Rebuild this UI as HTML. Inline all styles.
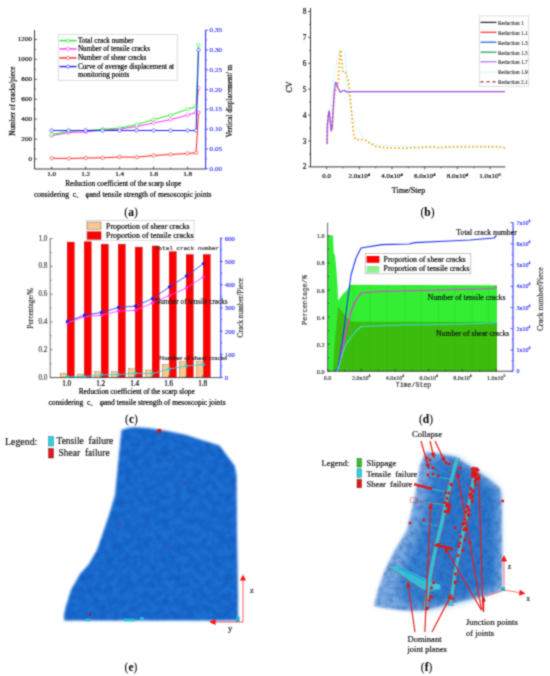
<!DOCTYPE html><html><head><meta charset="utf-8"><style>html,body{margin:0;padding:0;background:#fff;}svg{display:block;}</style></head><body>
<svg width="550" height="676" viewBox="0 0 550 676">
<rect width="550" height="676" fill="#fff"/>
<filter id="gblur" x="0" y="0" width="550" height="676" filterUnits="userSpaceOnUse" color-interpolation-filters="sRGB"><feConvolveMatrix order="3" kernelMatrix="1 2 1 2 8 2 1 2 1" edgeMode="duplicate"/></filter>
<g filter="url(#gblur)">
<rect width="550" height="676" fill="#fff"/>
<line x1="34.5" y1="30.0" x2="34.5" y2="169.0" stroke="#222" stroke-width="0.9" />
<line x1="34.5" y1="169.0" x2="205.6" y2="169.0" stroke="#222" stroke-width="0.9" />
<line x1="205.6" y1="30.0" x2="205.6" y2="169.0" stroke="#3030ff" stroke-width="1.1" />
<line x1="34.5" y1="159.0" x2="37.0" y2="159.0" stroke="#222" stroke-width="0.7" />
<text x="32.0" y="159.0" font-size="7.1" text-anchor="end" fill="#000" font-family="'Liberation Serif','Noto Serif CJK SC',serif" font-weight="normal" dominant-baseline="central" stroke="#000" stroke-width="0.18" >0</text>
<line x1="34.5" y1="139.1" x2="37.0" y2="139.1" stroke="#222" stroke-width="0.7" />
<text x="32.0" y="139.1" font-size="7.1" text-anchor="end" fill="#000" font-family="'Liberation Serif','Noto Serif CJK SC',serif" font-weight="normal" dominant-baseline="central" stroke="#000" stroke-width="0.18" >200</text>
<line x1="34.5" y1="119.1" x2="37.0" y2="119.1" stroke="#222" stroke-width="0.7" />
<text x="32.0" y="119.1" font-size="7.1" text-anchor="end" fill="#000" font-family="'Liberation Serif','Noto Serif CJK SC',serif" font-weight="normal" dominant-baseline="central" stroke="#000" stroke-width="0.18" >400</text>
<line x1="34.5" y1="99.2" x2="37.0" y2="99.2" stroke="#222" stroke-width="0.7" />
<text x="32.0" y="99.2" font-size="7.1" text-anchor="end" fill="#000" font-family="'Liberation Serif','Noto Serif CJK SC',serif" font-weight="normal" dominant-baseline="central" stroke="#000" stroke-width="0.18" >600</text>
<line x1="34.5" y1="79.3" x2="37.0" y2="79.3" stroke="#222" stroke-width="0.7" />
<text x="32.0" y="79.3" font-size="7.1" text-anchor="end" fill="#000" font-family="'Liberation Serif','Noto Serif CJK SC',serif" font-weight="normal" dominant-baseline="central" stroke="#000" stroke-width="0.18" >800</text>
<line x1="34.5" y1="59.3" x2="37.0" y2="59.3" stroke="#222" stroke-width="0.7" />
<text x="32.0" y="59.3" font-size="7.1" text-anchor="end" fill="#000" font-family="'Liberation Serif','Noto Serif CJK SC',serif" font-weight="normal" dominant-baseline="central" stroke="#000" stroke-width="0.18" >1000</text>
<line x1="34.5" y1="39.4" x2="37.0" y2="39.4" stroke="#222" stroke-width="0.7" />
<text x="32.0" y="39.4" font-size="7.1" text-anchor="end" fill="#000" font-family="'Liberation Serif','Noto Serif CJK SC',serif" font-weight="normal" dominant-baseline="central" stroke="#000" stroke-width="0.18" >1200</text>
<line x1="34.5" y1="149.0" x2="36.0" y2="149.0" stroke="#222" stroke-width="0.6" />
<line x1="34.5" y1="129.1" x2="36.0" y2="129.1" stroke="#222" stroke-width="0.6" />
<line x1="34.5" y1="109.2" x2="36.0" y2="109.2" stroke="#222" stroke-width="0.6" />
<line x1="34.5" y1="89.2" x2="36.0" y2="89.2" stroke="#222" stroke-width="0.6" />
<line x1="34.5" y1="69.3" x2="36.0" y2="69.3" stroke="#222" stroke-width="0.6" />
<line x1="34.5" y1="49.4" x2="36.0" y2="49.4" stroke="#222" stroke-width="0.6" />
<line x1="51.6" y1="169.0" x2="51.6" y2="166.5" stroke="#222" stroke-width="0.7" />
<text x="51.6" y="174.2" font-size="7.1" text-anchor="middle" fill="#000" font-family="'Liberation Serif','Noto Serif CJK SC',serif" font-weight="normal" dominant-baseline="central" stroke="#000" stroke-width="0.18" >1.0</text>
<line x1="68.6" y1="169.0" x2="68.6" y2="167.5" stroke="#222" stroke-width="0.7" />
<line x1="85.6" y1="169.0" x2="85.6" y2="166.5" stroke="#222" stroke-width="0.7" />
<text x="85.6" y="174.2" font-size="7.1" text-anchor="middle" fill="#000" font-family="'Liberation Serif','Noto Serif CJK SC',serif" font-weight="normal" dominant-baseline="central" stroke="#000" stroke-width="0.18" >1.2</text>
<line x1="102.6" y1="169.0" x2="102.6" y2="167.5" stroke="#222" stroke-width="0.7" />
<line x1="119.6" y1="169.0" x2="119.6" y2="166.5" stroke="#222" stroke-width="0.7" />
<text x="119.6" y="174.2" font-size="7.1" text-anchor="middle" fill="#000" font-family="'Liberation Serif','Noto Serif CJK SC',serif" font-weight="normal" dominant-baseline="central" stroke="#000" stroke-width="0.18" >1.4</text>
<line x1="136.6" y1="169.0" x2="136.6" y2="167.5" stroke="#222" stroke-width="0.7" />
<line x1="153.6" y1="169.0" x2="153.6" y2="166.5" stroke="#222" stroke-width="0.7" />
<text x="153.6" y="174.2" font-size="7.1" text-anchor="middle" fill="#000" font-family="'Liberation Serif','Noto Serif CJK SC',serif" font-weight="normal" dominant-baseline="central" stroke="#000" stroke-width="0.18" >1.6</text>
<line x1="170.6" y1="169.0" x2="170.6" y2="167.5" stroke="#222" stroke-width="0.7" />
<line x1="187.6" y1="169.0" x2="187.6" y2="166.5" stroke="#222" stroke-width="0.7" />
<text x="187.6" y="174.2" font-size="7.1" text-anchor="middle" fill="#000" font-family="'Liberation Serif','Noto Serif CJK SC',serif" font-weight="normal" dominant-baseline="central" stroke="#000" stroke-width="0.18" >1.8</text>
<line x1="205.6" y1="168.8" x2="208.1" y2="168.8" stroke="#3030ff" stroke-width="0.8" />
<text x="209.6" y="168.8" font-size="7.1" text-anchor="start" fill="#3333ff" font-family="'Liberation Serif','Noto Serif CJK SC',serif" font-weight="normal" dominant-baseline="central" stroke="#3333ff" stroke-width="0.18" >0.00</text>
<line x1="205.6" y1="158.9" x2="207.1" y2="158.9" stroke="#3030ff" stroke-width="0.6" />
<line x1="205.6" y1="149.0" x2="208.1" y2="149.0" stroke="#3030ff" stroke-width="0.8" />
<text x="209.6" y="149.0" font-size="7.1" text-anchor="start" fill="#3333ff" font-family="'Liberation Serif','Noto Serif CJK SC',serif" font-weight="normal" dominant-baseline="central" stroke="#3333ff" stroke-width="0.18" >0.05</text>
<line x1="205.6" y1="139.1" x2="207.1" y2="139.1" stroke="#3030ff" stroke-width="0.6" />
<line x1="205.6" y1="129.2" x2="208.1" y2="129.2" stroke="#3030ff" stroke-width="0.8" />
<text x="209.6" y="129.2" font-size="7.1" text-anchor="start" fill="#3333ff" font-family="'Liberation Serif','Noto Serif CJK SC',serif" font-weight="normal" dominant-baseline="central" stroke="#3333ff" stroke-width="0.18" >0.10</text>
<line x1="205.6" y1="119.3" x2="207.1" y2="119.3" stroke="#3030ff" stroke-width="0.6" />
<line x1="205.6" y1="109.4" x2="208.1" y2="109.4" stroke="#3030ff" stroke-width="0.8" />
<text x="209.6" y="109.4" font-size="7.1" text-anchor="start" fill="#3333ff" font-family="'Liberation Serif','Noto Serif CJK SC',serif" font-weight="normal" dominant-baseline="central" stroke="#3333ff" stroke-width="0.18" >0.15</text>
<line x1="205.6" y1="99.5" x2="207.1" y2="99.5" stroke="#3030ff" stroke-width="0.6" />
<line x1="205.6" y1="89.6" x2="208.1" y2="89.6" stroke="#3030ff" stroke-width="0.8" />
<text x="209.6" y="89.6" font-size="7.1" text-anchor="start" fill="#3333ff" font-family="'Liberation Serif','Noto Serif CJK SC',serif" font-weight="normal" dominant-baseline="central" stroke="#3333ff" stroke-width="0.18" >0.20</text>
<line x1="205.6" y1="79.7" x2="207.1" y2="79.7" stroke="#3030ff" stroke-width="0.6" />
<line x1="205.6" y1="69.8" x2="208.1" y2="69.8" stroke="#3030ff" stroke-width="0.8" />
<text x="209.6" y="69.8" font-size="7.1" text-anchor="start" fill="#3333ff" font-family="'Liberation Serif','Noto Serif CJK SC',serif" font-weight="normal" dominant-baseline="central" stroke="#3333ff" stroke-width="0.18" >0.25</text>
<line x1="205.6" y1="59.9" x2="207.1" y2="59.9" stroke="#3030ff" stroke-width="0.6" />
<line x1="205.6" y1="50.0" x2="208.1" y2="50.0" stroke="#3030ff" stroke-width="0.8" />
<text x="209.6" y="50.0" font-size="7.1" text-anchor="start" fill="#3333ff" font-family="'Liberation Serif','Noto Serif CJK SC',serif" font-weight="normal" dominant-baseline="central" stroke="#3333ff" stroke-width="0.18" >0.30</text>
<line x1="205.6" y1="40.1" x2="207.1" y2="40.1" stroke="#3030ff" stroke-width="0.6" />
<line x1="205.6" y1="30.2" x2="208.1" y2="30.2" stroke="#3030ff" stroke-width="0.8" />
<text x="209.6" y="30.2" font-size="7.1" text-anchor="start" fill="#3333ff" font-family="'Liberation Serif','Noto Serif CJK SC',serif" font-weight="normal" dominant-baseline="central" stroke="#3333ff" stroke-width="0.18" >0.35</text>
<text x="13.3" y="101.2" font-size="7.25" text-anchor="middle" fill="#000" font-family="'Liberation Serif','Noto Serif CJK SC',serif" font-weight="normal" dominant-baseline="central" transform="rotate(-90 13.3 101.2)" stroke="#000" stroke-width="0.18" >Number of cracks/piece</text>
<text x="229.8" y="101.0" font-size="7.3" text-anchor="middle" fill="#000" font-family="'Liberation Serif','Noto Serif CJK SC',serif" font-weight="normal" dominant-baseline="central" transform="rotate(-90 229.8 101)" stroke="#000" stroke-width="0.18" >Vertical displacement/ m</text>
<text x="123.2" y="183.0" font-size="7.3" text-anchor="middle" fill="#000" font-family="'Liberation Serif','Noto Serif CJK SC',serif" font-weight="normal" dominant-baseline="central" stroke="#000" stroke-width="0.18" >Reduction coefficient of the scarp slope</text>
<text x="34.0" y="195.3" font-size="7.2" text-anchor="start" fill="#000" font-family="'Liberation Serif','Noto Serif CJK SC',serif" font-weight="normal" dominant-baseline="central" stroke="#000" stroke-width="0.18"  textLength="177.4" lengthAdjust="spacingAndGlyphs">considering &#160;c、 φand tensile strength of mesoscopic joints</text>
<text x="131.0" y="211.5" font-size="11.5" text-anchor="middle" fill="#000" font-family="'Liberation Serif','Noto Serif CJK SC',serif" font-weight="normal" dominant-baseline="central" stroke="#000" stroke-width="0.05" >(<tspan font-weight="bold">a</tspan>)</text>
<polyline points="51.6,158.2 68.6,158.5 85.6,158.0 102.6,157.8 119.6,157.0 136.6,157.2 153.6,155.5 170.6,154.5 187.6,153.5 196.1,152.8 198.5,112.5" stroke="#ff2020" stroke-width="1.0" fill="none" stroke-linejoin="round" />
<circle cx="51.6" cy="158.2" r="1.7" stroke="#ff2020" fill="#fff" stroke-width="0.6"/>
<circle cx="68.6" cy="158.5" r="1.7" stroke="#ff2020" fill="#fff" stroke-width="0.6"/>
<circle cx="85.6" cy="158.0" r="1.7" stroke="#ff2020" fill="#fff" stroke-width="0.6"/>
<circle cx="102.6" cy="157.8" r="1.7" stroke="#ff2020" fill="#fff" stroke-width="0.6"/>
<circle cx="119.6" cy="157.0" r="1.7" stroke="#ff2020" fill="#fff" stroke-width="0.6"/>
<circle cx="136.6" cy="157.2" r="1.7" stroke="#ff2020" fill="#fff" stroke-width="0.6"/>
<circle cx="153.6" cy="155.5" r="1.7" stroke="#ff2020" fill="#fff" stroke-width="0.6"/>
<circle cx="170.6" cy="154.5" r="1.7" stroke="#ff2020" fill="#fff" stroke-width="0.6"/>
<circle cx="187.6" cy="153.5" r="1.7" stroke="#ff2020" fill="#fff" stroke-width="0.6"/>
<circle cx="196.1" cy="152.8" r="1.7" stroke="#ff2020" fill="#fff" stroke-width="0.6"/>
<circle cx="198.5" cy="112.5" r="1.7" stroke="#ff2020" fill="#fff" stroke-width="0.6"/>
<polyline points="51.6,135.6 68.6,132.6 85.6,131.9 102.6,130.1 119.6,129.1 136.6,126.6 153.6,122.9 170.6,119.6 187.6,115.1 196.1,112.4 198.5,88.0" stroke="#ff30ff" stroke-width="1.0" fill="none" stroke-linejoin="round" />
<circle cx="51.6" cy="135.6" r="1.7" stroke="#ff30ff" fill="#fff" stroke-width="0.6"/>
<circle cx="68.6" cy="132.6" r="1.7" stroke="#ff30ff" fill="#fff" stroke-width="0.6"/>
<circle cx="85.6" cy="131.9" r="1.7" stroke="#ff30ff" fill="#fff" stroke-width="0.6"/>
<circle cx="102.6" cy="130.1" r="1.7" stroke="#ff30ff" fill="#fff" stroke-width="0.6"/>
<circle cx="119.6" cy="129.1" r="1.7" stroke="#ff30ff" fill="#fff" stroke-width="0.6"/>
<circle cx="136.6" cy="126.6" r="1.7" stroke="#ff30ff" fill="#fff" stroke-width="0.6"/>
<circle cx="153.6" cy="122.9" r="1.7" stroke="#ff30ff" fill="#fff" stroke-width="0.6"/>
<circle cx="170.6" cy="119.6" r="1.7" stroke="#ff30ff" fill="#fff" stroke-width="0.6"/>
<circle cx="187.6" cy="115.1" r="1.7" stroke="#ff30ff" fill="#fff" stroke-width="0.6"/>
<circle cx="196.1" cy="112.4" r="1.7" stroke="#ff30ff" fill="#fff" stroke-width="0.6"/>
<circle cx="198.5" cy="88.0" r="1.7" stroke="#ff30ff" fill="#fff" stroke-width="0.6"/>
<polyline points="51.6,134.6 68.6,131.1 85.6,130.6 102.6,129.3 119.6,128.1 136.6,124.6 153.6,119.6 170.6,115.1 187.6,109.2 196.1,106.7 198.5,45.0" stroke="#20ee20" stroke-width="1.0" fill="none" stroke-linejoin="round" />
<circle cx="51.6" cy="134.6" r="1.7" stroke="#20ee20" fill="#fff" stroke-width="0.6"/>
<circle cx="68.6" cy="131.1" r="1.7" stroke="#20ee20" fill="#fff" stroke-width="0.6"/>
<circle cx="85.6" cy="130.6" r="1.7" stroke="#20ee20" fill="#fff" stroke-width="0.6"/>
<circle cx="102.6" cy="129.3" r="1.7" stroke="#20ee20" fill="#fff" stroke-width="0.6"/>
<circle cx="119.6" cy="128.1" r="1.7" stroke="#20ee20" fill="#fff" stroke-width="0.6"/>
<circle cx="136.6" cy="124.6" r="1.7" stroke="#20ee20" fill="#fff" stroke-width="0.6"/>
<circle cx="153.6" cy="119.6" r="1.7" stroke="#20ee20" fill="#fff" stroke-width="0.6"/>
<circle cx="170.6" cy="115.1" r="1.7" stroke="#20ee20" fill="#fff" stroke-width="0.6"/>
<circle cx="187.6" cy="109.2" r="1.7" stroke="#20ee20" fill="#fff" stroke-width="0.6"/>
<circle cx="196.1" cy="106.7" r="1.7" stroke="#20ee20" fill="#fff" stroke-width="0.6"/>
<circle cx="198.5" cy="45.0" r="1.7" stroke="#20ee20" fill="#fff" stroke-width="0.6"/>
<polyline points="51.6,130.5 68.6,130.5 85.6,130.5 102.6,130.5 119.6,130.5 136.6,130.5 153.6,130.5 170.6,130.5 187.6,130.5 196.1,130.5 198.5,50.0" stroke="#2020ff" stroke-width="1.0" fill="none" stroke-linejoin="round" />
<circle cx="51.6" cy="130.5" r="1.7" stroke="#2020ff" fill="#fff" stroke-width="0.6"/>
<circle cx="68.6" cy="130.5" r="1.7" stroke="#2020ff" fill="#fff" stroke-width="0.6"/>
<circle cx="85.6" cy="130.5" r="1.7" stroke="#2020ff" fill="#fff" stroke-width="0.6"/>
<circle cx="102.6" cy="130.5" r="1.7" stroke="#2020ff" fill="#fff" stroke-width="0.6"/>
<circle cx="119.6" cy="130.5" r="1.7" stroke="#2020ff" fill="#fff" stroke-width="0.6"/>
<circle cx="136.6" cy="130.5" r="1.7" stroke="#2020ff" fill="#fff" stroke-width="0.6"/>
<circle cx="153.6" cy="130.5" r="1.7" stroke="#2020ff" fill="#fff" stroke-width="0.6"/>
<circle cx="170.6" cy="130.5" r="1.7" stroke="#2020ff" fill="#fff" stroke-width="0.6"/>
<circle cx="187.6" cy="130.5" r="1.7" stroke="#2020ff" fill="#fff" stroke-width="0.6"/>
<circle cx="196.1" cy="130.5" r="1.7" stroke="#2020ff" fill="#fff" stroke-width="0.6"/>
<circle cx="198.5" cy="50.0" r="1.7" stroke="#2020ff" fill="#fff" stroke-width="0.6"/>
<rect x="58.5" y="34.7" width="118.7" height="45.7" fill="#fff" stroke="#c8c8c8" stroke-width="0.6" />
<line x1="59.5" y1="40.6" x2="76.5" y2="40.6" stroke="#20ee20" stroke-width="1.4" />
<circle cx="68.0" cy="40.6" r="1.6" stroke="#20ee20" fill="#fff" stroke-width="0.6"/>
<text x="77.9" y="40.6" font-size="7.2" text-anchor="start" fill="#000" font-family="'Liberation Serif','Noto Serif CJK SC',serif" font-weight="normal" dominant-baseline="central" stroke="#000" stroke-width="0.18" >Total crack number</text>
<line x1="59.5" y1="48.9" x2="76.5" y2="48.9" stroke="#ff30ff" stroke-width="1.4" />
<circle cx="68.0" cy="48.9" r="1.6" stroke="#ff30ff" fill="#fff" stroke-width="0.6"/>
<text x="77.9" y="48.9" font-size="7.2" text-anchor="start" fill="#000" font-family="'Liberation Serif','Noto Serif CJK SC',serif" font-weight="normal" dominant-baseline="central" stroke="#000" stroke-width="0.18" >Number of tensile cracks</text>
<line x1="59.5" y1="57.9" x2="76.5" y2="57.9" stroke="#ff2020" stroke-width="1.4" />
<circle cx="68.0" cy="57.9" r="1.6" stroke="#ff2020" fill="#fff" stroke-width="0.6"/>
<text x="77.9" y="57.9" font-size="7.2" text-anchor="start" fill="#000" font-family="'Liberation Serif','Noto Serif CJK SC',serif" font-weight="normal" dominant-baseline="central" stroke="#000" stroke-width="0.18" >Number of shear cracks</text>
<line x1="59.5" y1="66.6" x2="76.5" y2="66.6" stroke="#2020ff" stroke-width="1.4" />
<circle cx="68.0" cy="66.6" r="1.6" stroke="#2020ff" fill="#fff" stroke-width="0.6"/>
<text x="77.9" y="66.6" font-size="7.2" text-anchor="start" fill="#000" font-family="'Liberation Serif','Noto Serif CJK SC',serif" font-weight="normal" dominant-baseline="central" stroke="#000" stroke-width="0.18" >Curve of average displacement at</text>
<text x="77.9" y="74.9" font-size="7.2" text-anchor="start" fill="#000" font-family="'Liberation Serif','Noto Serif CJK SC',serif" font-weight="normal" dominant-baseline="central" stroke="#000" stroke-width="0.18" >monitoring points</text>
<line x1="310.5" y1="8.0" x2="310.5" y2="166.9" stroke="#222" stroke-width="0.9" />
<line x1="310.5" y1="166.9" x2="505.4" y2="166.9" stroke="#222" stroke-width="0.9" />
<line x1="310.5" y1="166.9" x2="308.0" y2="166.9" stroke="#222" stroke-width="0.7" />
<text x="306.5" y="166.9" font-size="7.3" text-anchor="end" fill="#000" font-family="'Liberation Serif','Noto Serif CJK SC',serif" font-weight="normal" dominant-baseline="central" stroke="#000" stroke-width="0.18" >2</text>
<line x1="310.5" y1="154.0" x2="309.0" y2="154.0" stroke="#222" stroke-width="0.6" />
<line x1="310.5" y1="141.0" x2="308.0" y2="141.0" stroke="#222" stroke-width="0.7" />
<text x="306.5" y="141.0" font-size="7.3" text-anchor="end" fill="#000" font-family="'Liberation Serif','Noto Serif CJK SC',serif" font-weight="normal" dominant-baseline="central" stroke="#000" stroke-width="0.18" >3</text>
<line x1="310.5" y1="128.1" x2="309.0" y2="128.1" stroke="#222" stroke-width="0.6" />
<line x1="310.5" y1="115.1" x2="308.0" y2="115.1" stroke="#222" stroke-width="0.7" />
<text x="306.5" y="115.1" font-size="7.3" text-anchor="end" fill="#000" font-family="'Liberation Serif','Noto Serif CJK SC',serif" font-weight="normal" dominant-baseline="central" stroke="#000" stroke-width="0.18" >4</text>
<line x1="310.5" y1="102.2" x2="309.0" y2="102.2" stroke="#222" stroke-width="0.6" />
<line x1="310.5" y1="89.2" x2="308.0" y2="89.2" stroke="#222" stroke-width="0.7" />
<text x="306.5" y="89.2" font-size="7.3" text-anchor="end" fill="#000" font-family="'Liberation Serif','Noto Serif CJK SC',serif" font-weight="normal" dominant-baseline="central" stroke="#000" stroke-width="0.18" >5</text>
<line x1="310.5" y1="76.3" x2="309.0" y2="76.3" stroke="#222" stroke-width="0.6" />
<line x1="310.5" y1="63.3" x2="308.0" y2="63.3" stroke="#222" stroke-width="0.7" />
<text x="306.5" y="63.3" font-size="7.3" text-anchor="end" fill="#000" font-family="'Liberation Serif','Noto Serif CJK SC',serif" font-weight="normal" dominant-baseline="central" stroke="#000" stroke-width="0.18" >6</text>
<line x1="310.5" y1="50.4" x2="309.0" y2="50.4" stroke="#222" stroke-width="0.6" />
<line x1="310.5" y1="37.4" x2="308.0" y2="37.4" stroke="#222" stroke-width="0.7" />
<text x="306.5" y="37.4" font-size="7.3" text-anchor="end" fill="#000" font-family="'Liberation Serif','Noto Serif CJK SC',serif" font-weight="normal" dominant-baseline="central" stroke="#000" stroke-width="0.18" >7</text>
<line x1="310.5" y1="24.5" x2="309.0" y2="24.5" stroke="#222" stroke-width="0.6" />
<line x1="310.5" y1="11.5" x2="308.0" y2="11.5" stroke="#222" stroke-width="0.7" />
<text x="306.5" y="11.5" font-size="7.3" text-anchor="end" fill="#000" font-family="'Liberation Serif','Noto Serif CJK SC',serif" font-weight="normal" dominant-baseline="central" stroke="#000" stroke-width="0.18" >8</text>
<line x1="326.6" y1="166.9" x2="326.6" y2="169.4" stroke="#222" stroke-width="0.7" />
<text x="326.6" y="176.3" font-size="7.0" text-anchor="middle" fill="#000" font-family="'Liberation Serif','Noto Serif CJK SC',serif" font-weight="normal" dominant-baseline="central" stroke="#000" stroke-width="0.18" >0.0</text>
<line x1="359.3" y1="166.9" x2="359.3" y2="169.4" stroke="#222" stroke-width="0.7" />
<text x="359.3" y="176.3" font-size="7.0" text-anchor="middle" fill="#000" font-family="'Liberation Serif','Noto Serif CJK SC',serif" font-weight="normal" dominant-baseline="central" stroke="#000" stroke-width="0.18" >2.0x10<tspan dy="-2.5" font-size="4.5">4</tspan></text>
<line x1="392.0" y1="166.9" x2="392.0" y2="169.4" stroke="#222" stroke-width="0.7" />
<text x="392.0" y="176.3" font-size="7.0" text-anchor="middle" fill="#000" font-family="'Liberation Serif','Noto Serif CJK SC',serif" font-weight="normal" dominant-baseline="central" stroke="#000" stroke-width="0.18" >4.0x10<tspan dy="-2.5" font-size="4.5">4</tspan></text>
<line x1="424.7" y1="166.9" x2="424.7" y2="169.4" stroke="#222" stroke-width="0.7" />
<text x="424.7" y="176.3" font-size="7.0" text-anchor="middle" fill="#000" font-family="'Liberation Serif','Noto Serif CJK SC',serif" font-weight="normal" dominant-baseline="central" stroke="#000" stroke-width="0.18" >6.0x10<tspan dy="-2.5" font-size="4.5">4</tspan></text>
<line x1="457.4" y1="166.9" x2="457.4" y2="169.4" stroke="#222" stroke-width="0.7" />
<text x="457.4" y="176.3" font-size="7.0" text-anchor="middle" fill="#000" font-family="'Liberation Serif','Noto Serif CJK SC',serif" font-weight="normal" dominant-baseline="central" stroke="#000" stroke-width="0.18" >8.0x10<tspan dy="-2.5" font-size="4.5">4</tspan></text>
<line x1="490.1" y1="166.9" x2="490.1" y2="169.4" stroke="#222" stroke-width="0.7" />
<text x="490.1" y="176.3" font-size="7.0" text-anchor="middle" fill="#000" font-family="'Liberation Serif','Noto Serif CJK SC',serif" font-weight="normal" dominant-baseline="central" stroke="#000" stroke-width="0.18" >1.0x10<tspan dy="-2.5" font-size="4.5">5</tspan></text>
<line x1="343.0" y1="166.9" x2="343.0" y2="168.4" stroke="#222" stroke-width="0.6" />
<line x1="375.7" y1="166.9" x2="375.7" y2="168.4" stroke="#222" stroke-width="0.6" />
<line x1="408.4" y1="166.9" x2="408.4" y2="168.4" stroke="#222" stroke-width="0.6" />
<line x1="441.1" y1="166.9" x2="441.1" y2="168.4" stroke="#222" stroke-width="0.6" />
<line x1="473.8" y1="166.9" x2="473.8" y2="168.4" stroke="#222" stroke-width="0.6" />
<text x="289.0" y="87.0" font-size="8" text-anchor="middle" fill="#000" font-family="'Liberation Serif','Noto Serif CJK SC',serif" font-weight="normal" dominant-baseline="central" transform="rotate(-90 289 87)" stroke="#000" stroke-width="0.18" >CV</text>
<text x="408.5" y="190.0" font-size="8.1" text-anchor="middle" fill="#000" font-family="'Liberation Serif','Noto Serif CJK SC',serif" font-weight="normal" dominant-baseline="central" stroke="#000" stroke-width="0.18" >Time/Step</text>
<text x="427.5" y="211.5" font-size="11.5" text-anchor="middle" fill="#000" font-family="'Liberation Serif','Noto Serif CJK SC',serif" font-weight="normal" dominant-baseline="central" stroke="#000" stroke-width="0.05" >(<tspan font-weight="bold">b</tspan>)</text>
<polyline points="345.2,52.0 345.2,100.0" stroke="#b0f4f4" stroke-width="0.8" fill="none" stroke-linejoin="round" stroke-dasharray="0.8 1"/>
<polyline points="327.0,141.0 328.5,125.0 330.0,112.0 331.5,100.0 333.0,85.0 335.0,72.0 337.0,60.0 339.0,53.0 341.0,50.0 343.0,51.0 345.2,54.0 346.0,65.0 347.0,78.0 348.5,92.0 350.0,104.0 352.0,114.0 355.0,124.0 360.0,133.0 365.0,139.0 372.0,143.0 380.0,145.0 400.0,146.0 430.0,147.0 460.0,148.0 490.0,147.0 505.0,147.0" stroke="#a0f0f0" stroke-width="0.9" fill="none" stroke-linejoin="round" stroke-dasharray="0.8 1"/>
<polyline points="327.1,144.0 327.4,125.0 328.2,116.0 329.2,111.0 330.2,120.0 331.2,131.0 332.2,127.0 333.3,108.0 334.3,95.0 336.5,88.0 338.3,82.0 338.8,70.0 339.5,60.0 340.3,50.0 341.0,54.0 341.6,60.0 342.2,67.0 343.0,72.5 345.7,72.7 347.4,77.0 348.4,82.0 349.2,87.0 350.0,96.0 351.0,106.0 352.0,118.0 353.0,128.0 354.0,135.0 355.5,139.5 362.0,139.5 366.0,140.5 370.0,143.5 376.0,146.5 385.0,147.7 395.0,148.0 410.0,148.0 420.0,147.5 430.0,147.0 440.0,147.5 450.0,146.8 470.0,146.5 490.0,146.5 500.0,147.0 505.0,148.0" stroke="#f0a000" stroke-width="1.75" fill="none" stroke-linejoin="round" stroke-dasharray="1.5 2.4"/>
<polyline points="327.1,144.0 327.4,125.0 328.2,116.0 329.2,111.0 330.2,120.0 331.2,131.0 332.2,127.0 333.3,108.0 334.3,92.0 335.4,82.5 336.5,83.0 338.0,88.0 340.3,92.3 342.0,91.0 344.1,90.4 346.0,91.5 348.4,92.1 352.0,91.7 505.0,91.7" stroke="#a050e8" stroke-width="1.3" fill="none" stroke-linejoin="round" />
<rect x="479.2" y="16.0" width="49.6" height="70.5" fill="#fff" stroke="#c8c8c8" stroke-width="0.6" />
<line x1="480.5" y1="22.4" x2="496.5" y2="22.4" stroke="#222" stroke-width="1.25" />
<text x="498.0" y="22.7" font-size="5.3" text-anchor="start" fill="#222" font-family="'Liberation Serif','Noto Serif CJK SC',serif" font-weight="normal" dominant-baseline="central" stroke="#222" stroke-width="0.08" >Reduction 1</text>
<line x1="480.5" y1="32.3" x2="496.5" y2="32.3" stroke="#ff3030" stroke-width="1.25" />
<text x="498.0" y="32.6" font-size="5.3" text-anchor="start" fill="#222" font-family="'Liberation Serif','Noto Serif CJK SC',serif" font-weight="normal" dominant-baseline="central" stroke="#222" stroke-width="0.08" >Reduction 1.1</text>
<line x1="480.5" y1="42.2" x2="496.5" y2="42.2" stroke="#2060e0" stroke-width="1.25" />
<text x="498.0" y="42.5" font-size="5.3" text-anchor="start" fill="#222" font-family="'Liberation Serif','Noto Serif CJK SC',serif" font-weight="normal" dominant-baseline="central" stroke="#222" stroke-width="0.08" >Reduction 1.3</text>
<line x1="480.5" y1="52.2" x2="496.5" y2="52.2" stroke="#20a050" stroke-width="1.25" />
<text x="498.0" y="52.5" font-size="5.3" text-anchor="start" fill="#222" font-family="'Liberation Serif','Noto Serif CJK SC',serif" font-weight="normal" dominant-baseline="central" stroke="#222" stroke-width="0.08" >Reduction 1.5</text>
<line x1="480.5" y1="61.8" x2="496.5" y2="61.8" stroke="#b070f0" stroke-width="1.25" />
<text x="498.0" y="62.1" font-size="5.3" text-anchor="start" fill="#222" font-family="'Liberation Serif','Noto Serif CJK SC',serif" font-weight="normal" dominant-baseline="central" stroke="#222" stroke-width="0.08" >Reduction 1.7</text>
<line x1="480.5" y1="72.0" x2="496.5" y2="72.0" stroke="#a0f0f0" stroke-width="1.25" stroke-dasharray="0.8 1"/>
<text x="498.0" y="72.3" font-size="5.3" text-anchor="start" fill="#222" font-family="'Liberation Serif','Noto Serif CJK SC',serif" font-weight="normal" dominant-baseline="central" stroke="#222" stroke-width="0.08" >Reduction 1.9</text>
<line x1="480.5" y1="81.9" x2="496.5" y2="81.9" stroke="#803030" stroke-width="1.25" stroke-dasharray="3 3"/>
<text x="498.0" y="82.2" font-size="5.3" text-anchor="start" fill="#222" font-family="'Liberation Serif','Noto Serif CJK SC',serif" font-weight="normal" dominant-baseline="central" stroke="#222" stroke-width="0.08" >Reduction 2.1</text>
<rect x="67.2" y="242.1" width="7.0" height="135.5" fill="#ff0000" stroke="#b00000" stroke-width="0.4" />
<rect x="60.2" y="373.4" width="7.0" height="4.2" fill="#f8c890" stroke="#8a6a4a" stroke-width="0.4" />
<rect x="84.2" y="241.8" width="7.0" height="135.8" fill="#ff0000" stroke="#b00000" stroke-width="0.4" />
<rect x="77.2" y="374.1" width="7.0" height="3.5" fill="#f8c890" stroke="#8a6a4a" stroke-width="0.4" />
<rect x="101.2" y="244.2" width="7.0" height="133.4" fill="#ff0000" stroke="#b00000" stroke-width="0.4" />
<rect x="94.2" y="371.6" width="7.0" height="6.0" fill="#f8c890" stroke="#8a6a4a" stroke-width="0.4" />
<rect x="118.2" y="244.2" width="7.0" height="133.4" fill="#ff0000" stroke="#b00000" stroke-width="0.4" />
<rect x="111.2" y="371.6" width="7.0" height="6.0" fill="#f8c890" stroke="#8a6a4a" stroke-width="0.4" />
<rect x="135.2" y="247.1" width="7.0" height="130.5" fill="#ff0000" stroke="#b00000" stroke-width="0.4" />
<rect x="128.2" y="368.6" width="7.0" height="9.0" fill="#f8c890" stroke="#8a6a4a" stroke-width="0.4" />
<rect x="152.2" y="246.0" width="7.0" height="131.6" fill="#ff0000" stroke="#b00000" stroke-width="0.4" />
<rect x="145.2" y="370.0" width="7.0" height="7.6" fill="#f8c890" stroke="#8a6a4a" stroke-width="0.4" />
<rect x="169.2" y="251.7" width="7.0" height="125.9" fill="#ff0000" stroke="#b00000" stroke-width="0.4" />
<rect x="162.2" y="364.4" width="7.0" height="13.2" fill="#f8c890" stroke="#8a6a4a" stroke-width="0.4" />
<rect x="186.2" y="254.6" width="7.0" height="123.0" fill="#ff0000" stroke="#b00000" stroke-width="0.4" />
<rect x="179.2" y="361.6" width="7.0" height="16.0" fill="#f8c890" stroke="#8a6a4a" stroke-width="0.4" />
<rect x="203.2" y="254.6" width="7.0" height="123.0" fill="#ff0000" stroke="#b00000" stroke-width="0.4" />
<rect x="196.2" y="361.6" width="7.0" height="16.0" fill="#f8c890" stroke="#8a6a4a" stroke-width="0.4" />
<line x1="50.2" y1="238.0" x2="50.2" y2="377.6" stroke="#666" stroke-width="0.9" />
<line x1="50.2" y1="377.6" x2="220.8" y2="377.6" stroke="#444" stroke-width="0.9" />
<line x1="220.8" y1="238.0" x2="220.8" y2="377.6" stroke="#3030ff" stroke-width="1.1" />
<line x1="50.2" y1="377.6" x2="52.7" y2="377.6" stroke="#555" stroke-width="0.7" />
<text x="47.4" y="377.6" font-size="7.2" text-anchor="end" fill="#444" font-family="'Liberation Serif','Noto Serif CJK SC',serif" font-weight="normal" dominant-baseline="central" stroke="#444" stroke-width="0.18" >0.0</text>
<line x1="50.2" y1="363.7" x2="51.7" y2="363.7" stroke="#555" stroke-width="0.6" />
<line x1="50.2" y1="349.8" x2="52.7" y2="349.8" stroke="#555" stroke-width="0.7" />
<text x="47.4" y="349.8" font-size="7.2" text-anchor="end" fill="#444" font-family="'Liberation Serif','Noto Serif CJK SC',serif" font-weight="normal" dominant-baseline="central" stroke="#444" stroke-width="0.18" >0.2</text>
<line x1="50.2" y1="335.9" x2="51.7" y2="335.9" stroke="#555" stroke-width="0.6" />
<line x1="50.2" y1="322.0" x2="52.7" y2="322.0" stroke="#555" stroke-width="0.7" />
<text x="47.4" y="322.0" font-size="7.2" text-anchor="end" fill="#444" font-family="'Liberation Serif','Noto Serif CJK SC',serif" font-weight="normal" dominant-baseline="central" stroke="#444" stroke-width="0.18" >0.4</text>
<line x1="50.2" y1="308.1" x2="51.7" y2="308.1" stroke="#555" stroke-width="0.6" />
<line x1="50.2" y1="294.2" x2="52.7" y2="294.2" stroke="#555" stroke-width="0.7" />
<text x="47.4" y="294.2" font-size="7.2" text-anchor="end" fill="#444" font-family="'Liberation Serif','Noto Serif CJK SC',serif" font-weight="normal" dominant-baseline="central" stroke="#444" stroke-width="0.18" >0.6</text>
<line x1="50.2" y1="280.3" x2="51.7" y2="280.3" stroke="#555" stroke-width="0.6" />
<line x1="50.2" y1="266.4" x2="52.7" y2="266.4" stroke="#555" stroke-width="0.7" />
<text x="47.4" y="266.4" font-size="7.2" text-anchor="end" fill="#444" font-family="'Liberation Serif','Noto Serif CJK SC',serif" font-weight="normal" dominant-baseline="central" stroke="#444" stroke-width="0.18" >0.8</text>
<line x1="50.2" y1="252.5" x2="51.7" y2="252.5" stroke="#555" stroke-width="0.6" />
<line x1="50.2" y1="238.6" x2="52.7" y2="238.6" stroke="#555" stroke-width="0.7" />
<text x="47.4" y="238.6" font-size="7.2" text-anchor="end" fill="#444" font-family="'Liberation Serif','Noto Serif CJK SC',serif" font-weight="normal" dominant-baseline="central" stroke="#444" stroke-width="0.18" >1.0</text>
<line x1="66.7" y1="377.6" x2="66.7" y2="375.1" stroke="#444" stroke-width="0.7" />
<text x="66.7" y="384.4" font-size="7.2" text-anchor="middle" fill="#000" font-family="'Liberation Serif','Noto Serif CJK SC',serif" font-weight="normal" dominant-baseline="central" stroke="#000" stroke-width="0.18" >1.0</text>
<line x1="83.7" y1="377.6" x2="83.7" y2="376.1" stroke="#444" stroke-width="0.7" />
<line x1="100.7" y1="377.6" x2="100.7" y2="375.1" stroke="#444" stroke-width="0.7" />
<text x="100.7" y="384.4" font-size="7.2" text-anchor="middle" fill="#000" font-family="'Liberation Serif','Noto Serif CJK SC',serif" font-weight="normal" dominant-baseline="central" stroke="#000" stroke-width="0.18" >1.2</text>
<line x1="117.7" y1="377.6" x2="117.7" y2="376.1" stroke="#444" stroke-width="0.7" />
<line x1="134.7" y1="377.6" x2="134.7" y2="375.1" stroke="#444" stroke-width="0.7" />
<text x="134.7" y="384.4" font-size="7.2" text-anchor="middle" fill="#000" font-family="'Liberation Serif','Noto Serif CJK SC',serif" font-weight="normal" dominant-baseline="central" stroke="#000" stroke-width="0.18" >1.4</text>
<line x1="151.7" y1="377.6" x2="151.7" y2="376.1" stroke="#444" stroke-width="0.7" />
<line x1="168.7" y1="377.6" x2="168.7" y2="375.1" stroke="#444" stroke-width="0.7" />
<text x="168.7" y="384.4" font-size="7.2" text-anchor="middle" fill="#000" font-family="'Liberation Serif','Noto Serif CJK SC',serif" font-weight="normal" dominant-baseline="central" stroke="#000" stroke-width="0.18" >1.6</text>
<line x1="185.7" y1="377.6" x2="185.7" y2="376.1" stroke="#444" stroke-width="0.7" />
<line x1="202.7" y1="377.6" x2="202.7" y2="375.1" stroke="#444" stroke-width="0.7" />
<text x="202.7" y="384.4" font-size="7.2" text-anchor="middle" fill="#000" font-family="'Liberation Serif','Noto Serif CJK SC',serif" font-weight="normal" dominant-baseline="central" stroke="#000" stroke-width="0.18" >1.8</text>
<line x1="219.8" y1="377.6" x2="222.8" y2="377.6" stroke="#3030ff" stroke-width="0.8" />
<text x="224.8" y="377.6" font-size="6.8" text-anchor="start" fill="#3333ff" font-family="'Liberation Serif','Noto Serif CJK SC',serif" font-weight="normal" dominant-baseline="central" stroke="#3333ff" stroke-width="0.18" >0</text>
<line x1="220.8" y1="366.0" x2="222.3" y2="366.0" stroke="#3030ff" stroke-width="0.6" />
<line x1="219.8" y1="354.4" x2="222.8" y2="354.4" stroke="#3030ff" stroke-width="0.8" />
<text x="224.8" y="354.4" font-size="6.8" text-anchor="start" fill="#3333ff" font-family="'Liberation Serif','Noto Serif CJK SC',serif" font-weight="normal" dominant-baseline="central" stroke="#3333ff" stroke-width="0.18" >100</text>
<line x1="220.8" y1="342.8" x2="222.3" y2="342.8" stroke="#3030ff" stroke-width="0.6" />
<line x1="219.8" y1="331.1" x2="222.8" y2="331.1" stroke="#3030ff" stroke-width="0.8" />
<text x="224.8" y="331.1" font-size="6.8" text-anchor="start" fill="#3333ff" font-family="'Liberation Serif','Noto Serif CJK SC',serif" font-weight="normal" dominant-baseline="central" stroke="#3333ff" stroke-width="0.18" >200</text>
<line x1="220.8" y1="319.5" x2="222.3" y2="319.5" stroke="#3030ff" stroke-width="0.6" />
<line x1="219.8" y1="307.9" x2="222.8" y2="307.9" stroke="#3030ff" stroke-width="0.8" />
<text x="224.8" y="307.9" font-size="6.8" text-anchor="start" fill="#3333ff" font-family="'Liberation Serif','Noto Serif CJK SC',serif" font-weight="normal" dominant-baseline="central" stroke="#3333ff" stroke-width="0.18" >300</text>
<line x1="220.8" y1="296.3" x2="222.3" y2="296.3" stroke="#3030ff" stroke-width="0.6" />
<line x1="219.8" y1="284.7" x2="222.8" y2="284.7" stroke="#3030ff" stroke-width="0.8" />
<text x="224.8" y="284.7" font-size="6.8" text-anchor="start" fill="#3333ff" font-family="'Liberation Serif','Noto Serif CJK SC',serif" font-weight="normal" dominant-baseline="central" stroke="#3333ff" stroke-width="0.18" >400</text>
<line x1="220.8" y1="273.1" x2="222.3" y2="273.1" stroke="#3030ff" stroke-width="0.6" />
<line x1="219.8" y1="261.5" x2="222.8" y2="261.5" stroke="#3030ff" stroke-width="0.8" />
<text x="224.8" y="261.5" font-size="6.8" text-anchor="start" fill="#3333ff" font-family="'Liberation Serif','Noto Serif CJK SC',serif" font-weight="normal" dominant-baseline="central" stroke="#3333ff" stroke-width="0.18" >500</text>
<line x1="220.8" y1="249.8" x2="222.3" y2="249.8" stroke="#3030ff" stroke-width="0.6" />
<line x1="219.8" y1="238.2" x2="222.8" y2="238.2" stroke="#3030ff" stroke-width="0.8" />
<text x="224.8" y="238.2" font-size="6.8" text-anchor="start" fill="#3333ff" font-family="'Liberation Serif','Noto Serif CJK SC',serif" font-weight="normal" dominant-baseline="central" stroke="#3333ff" stroke-width="0.18" >600</text>
<text x="30.7" y="308.3" font-size="7.4" text-anchor="middle" fill="#333" font-family="'Liberation Serif','Noto Serif CJK SC',serif" font-weight="normal" dominant-baseline="central" transform="rotate(-90 30.7 308.3)" stroke="#333" stroke-width="0.18" >Percentage/%</text>
<text x="240.5" y="307.7" font-size="7.3" text-anchor="middle" fill="#333" font-family="'Liberation Serif','Noto Serif CJK SC',serif" font-weight="normal" dominant-baseline="central" transform="rotate(-90 240.5 307.7)" stroke="#333" stroke-width="0.18" >Crack number/Piece</text>
<text x="136.7" y="391.4" font-size="7.3" text-anchor="middle" fill="#000" font-family="'Liberation Serif','Noto Serif CJK SC',serif" font-weight="normal" dominant-baseline="central" stroke="#000" stroke-width="0.18" >Reduction coefficient of the scarp slope</text>
<text x="48.4" y="403.2" font-size="7.2" text-anchor="start" fill="#000" font-family="'Liberation Serif','Noto Serif CJK SC',serif" font-weight="normal" dominant-baseline="central" stroke="#000" stroke-width="0.18"  textLength="177.2" lengthAdjust="spacingAndGlyphs">considering &#160;c、 φand tensile strength of mesoscopic joints</text>
<text x="131.5" y="419.0" font-size="11.5" text-anchor="middle" fill="#000" font-family="'Liberation Serif','Noto Serif CJK SC',serif" font-weight="normal" dominant-baseline="central" stroke="#000" stroke-width="0.05" >(<tspan font-weight="bold">c</tspan>)</text>
<polyline points="67.4,322.8 84.4,316.8 101.4,315.2 118.4,311.2 135.4,310.4 152.4,303.0 169.4,295.6 186.4,288.0 203.4,277.0" stroke="#ff40ff" stroke-width="0.9" fill="none" stroke-linejoin="round" />
<circle cx="67.4" cy="322.8" r="1.4" stroke="#ff30ff" fill="#ff30ff" stroke-width="0.3"/>
<circle cx="84.4" cy="316.8" r="1.4" stroke="#ff30ff" fill="#ff30ff" stroke-width="0.3"/>
<circle cx="101.4" cy="315.2" r="1.4" stroke="#ff30ff" fill="#ff30ff" stroke-width="0.3"/>
<circle cx="118.4" cy="311.2" r="1.4" stroke="#ff30ff" fill="#ff30ff" stroke-width="0.3"/>
<circle cx="135.4" cy="310.4" r="1.4" stroke="#ff30ff" fill="#ff30ff" stroke-width="0.3"/>
<circle cx="152.4" cy="303.0" r="1.4" stroke="#ff30ff" fill="#ff30ff" stroke-width="0.3"/>
<circle cx="169.4" cy="295.6" r="1.4" stroke="#ff30ff" fill="#ff30ff" stroke-width="0.3"/>
<circle cx="186.4" cy="288.0" r="1.4" stroke="#ff30ff" fill="#ff30ff" stroke-width="0.3"/>
<circle cx="203.4" cy="277.0" r="1.4" stroke="#ff30ff" fill="#ff30ff" stroke-width="0.3"/>
<polyline points="67.4,321.5 84.4,315.2 101.4,312.5 118.4,307.5 135.4,306.1 152.4,298.6 169.4,287.0 186.4,276.0 203.4,263.6" stroke="#3040ff" stroke-width="0.9" fill="none" stroke-linejoin="round" />
<circle cx="67.4" cy="321.5" r="1.4" stroke="#1020f0" fill="#1020f0" stroke-width="0.3"/>
<circle cx="84.4" cy="315.2" r="1.4" stroke="#1020f0" fill="#1020f0" stroke-width="0.3"/>
<circle cx="101.4" cy="312.5" r="1.4" stroke="#1020f0" fill="#1020f0" stroke-width="0.3"/>
<circle cx="118.4" cy="307.5" r="1.4" stroke="#1020f0" fill="#1020f0" stroke-width="0.3"/>
<circle cx="135.4" cy="306.1" r="1.4" stroke="#1020f0" fill="#1020f0" stroke-width="0.3"/>
<circle cx="152.4" cy="298.6" r="1.4" stroke="#1020f0" fill="#1020f0" stroke-width="0.3"/>
<circle cx="169.4" cy="287.0" r="1.4" stroke="#1020f0" fill="#1020f0" stroke-width="0.3"/>
<circle cx="186.4" cy="276.0" r="1.4" stroke="#1020f0" fill="#1020f0" stroke-width="0.3"/>
<circle cx="203.4" cy="263.6" r="1.4" stroke="#1020f0" fill="#1020f0" stroke-width="0.3"/>
<polyline points="67.4,376.6 84.4,376.6 101.4,374.8 118.4,374.6 135.4,373.2 152.4,373.6 169.4,369.0 186.4,366.0 203.4,364.4" stroke="#30d8e0" stroke-width="0.9" fill="none" stroke-linejoin="round" />
<circle cx="67.4" cy="376.6" r="1.4" stroke="#10d0e0" fill="#10d0e0" stroke-width="0.3"/>
<circle cx="84.4" cy="376.6" r="1.4" stroke="#10d0e0" fill="#10d0e0" stroke-width="0.3"/>
<circle cx="101.4" cy="374.8" r="1.4" stroke="#10d0e0" fill="#10d0e0" stroke-width="0.3"/>
<circle cx="118.4" cy="374.6" r="1.4" stroke="#10d0e0" fill="#10d0e0" stroke-width="0.3"/>
<circle cx="135.4" cy="373.2" r="1.4" stroke="#10d0e0" fill="#10d0e0" stroke-width="0.3"/>
<circle cx="152.4" cy="373.6" r="1.4" stroke="#10d0e0" fill="#10d0e0" stroke-width="0.3"/>
<circle cx="169.4" cy="369.0" r="1.4" stroke="#10d0e0" fill="#10d0e0" stroke-width="0.3"/>
<circle cx="186.4" cy="366.0" r="1.4" stroke="#10d0e0" fill="#10d0e0" stroke-width="0.3"/>
<circle cx="203.4" cy="364.4" r="1.4" stroke="#10d0e0" fill="#10d0e0" stroke-width="0.3"/>
<text x="155.0" y="248.0" font-size="5.95" text-anchor="start" fill="#333" font-family="'Liberation Mono',monospace" font-weight="normal" dominant-baseline="central" stroke="#333" stroke-width="0.18" >Total crack number</text>
<text x="155.0" y="301.6" font-size="7.25" text-anchor="start" fill="#222" font-family="'Liberation Serif','Noto Serif CJK SC',serif" font-weight="normal" dominant-baseline="central" stroke="#222" stroke-width="0.18" >Number of tensile cracks</text>
<text x="159.0" y="358.4" font-size="7.15" text-anchor="start" fill="#222" font-family="'Liberation Serif','Noto Serif CJK SC',serif" font-weight="normal" dominant-baseline="central" stroke="#222" stroke-width="0.18" >Number of shear cracks</text>
<rect x="86.4" y="220.6" width="107.6" height="19.6" fill="#fff" stroke="#c0c0c0" stroke-width="0.6" />
<rect x="87.4" y="222.0" width="13.6" height="7.4" fill="#f8c890" stroke="#8a6a4a" stroke-width="0.5" />
<rect x="87.4" y="231.8" width="13.6" height="7.4" fill="#ff0000" stroke="#a00000" stroke-width="0.5" />
<text x="106.0" y="226.0" font-size="7.95" text-anchor="start" fill="#000" font-family="'Liberation Serif','Noto Serif CJK SC',serif" font-weight="normal" dominant-baseline="central" stroke="#000" stroke-width="0.18" >Proportion of shear cracks</text>
<text x="106.0" y="235.6" font-size="7.95" text-anchor="start" fill="#000" font-family="'Liberation Serif','Noto Serif CJK SC',serif" font-weight="normal" dominant-baseline="central" stroke="#000" stroke-width="0.18" >Proportion of tensile cracks</text>
<polygon points="327.6,235.4 333.0,235.4 333.6,252.0 335.0,255.5 336.0,265.0 337.5,285.0 338.0,300.0 338.6,300.0 343.0,294.0 347.0,290.0 350.0,284.8 497.0,285.2 497.0,371.2 327.6,371.2" fill="#33ee33" stroke="none" stroke-width="1" />
<polygon points="333.0,371.2 334.5,345.0 336.5,325.0 338.0,306.5 344.0,314.0 348.0,319.0 352.0,321.8 497.0,322.0 497.0,371.2" fill="#3cbd0e" stroke="none" stroke-width="1" />
<rect x="352.5" y="285.5" width="1.2" height="85.7" fill="#1a9a1a" stroke="none" stroke-width="1" opacity="0.13"/>
<rect x="369.5" y="285.5" width="1.2" height="85.7" fill="#1a9a1a" stroke="none" stroke-width="1" opacity="0.13"/>
<rect x="386.5" y="285.5" width="1.2" height="85.7" fill="#1a9a1a" stroke="none" stroke-width="1" opacity="0.13"/>
<rect x="404.0" y="285.5" width="1.2" height="85.7" fill="#1a9a1a" stroke="none" stroke-width="1" opacity="0.13"/>
<rect x="420.4" y="285.5" width="1.2" height="85.7" fill="#1a9a1a" stroke="none" stroke-width="1" opacity="0.13"/>
<rect x="437.9" y="285.5" width="1.2" height="85.7" fill="#1a9a1a" stroke="none" stroke-width="1" opacity="0.13"/>
<rect x="454.0" y="285.5" width="1.2" height="85.7" fill="#1a9a1a" stroke="none" stroke-width="1" opacity="0.13"/>
<rect x="471.7" y="285.5" width="1.2" height="85.7" fill="#1a9a1a" stroke="none" stroke-width="1" opacity="0.13"/>
<rect x="488.0" y="285.5" width="1.2" height="85.7" fill="#1a9a1a" stroke="none" stroke-width="1" opacity="0.13"/>
<line x1="327.6" y1="222.6" x2="327.6" y2="371.2" stroke="#555" stroke-width="0.9" />
<line x1="327.6" y1="371.2" x2="513.0" y2="371.2" stroke="#333" stroke-width="0.9" />
<line x1="513.0" y1="222.6" x2="513.0" y2="371.2" stroke="#3030ff" stroke-width="1.1" />
<line x1="327.6" y1="371.2" x2="330.1" y2="371.2" stroke="#333" stroke-width="0.7" />
<text x="324.6" y="371.2" font-size="6.3" text-anchor="end" fill="#333" font-family="'Liberation Serif','Noto Serif CJK SC',serif" font-weight="normal" dominant-baseline="central" stroke="#333" stroke-width="0.18" >0.0</text>
<line x1="327.6" y1="357.7" x2="329.1" y2="357.7" stroke="#333" stroke-width="0.6" />
<line x1="327.6" y1="344.1" x2="330.1" y2="344.1" stroke="#333" stroke-width="0.7" />
<text x="324.6" y="344.1" font-size="6.3" text-anchor="end" fill="#333" font-family="'Liberation Serif','Noto Serif CJK SC',serif" font-weight="normal" dominant-baseline="central" stroke="#333" stroke-width="0.18" >0.2</text>
<line x1="327.6" y1="330.6" x2="329.1" y2="330.6" stroke="#333" stroke-width="0.6" />
<line x1="327.6" y1="317.0" x2="330.1" y2="317.0" stroke="#333" stroke-width="0.7" />
<text x="324.6" y="317.0" font-size="6.3" text-anchor="end" fill="#333" font-family="'Liberation Serif','Noto Serif CJK SC',serif" font-weight="normal" dominant-baseline="central" stroke="#333" stroke-width="0.18" >0.4</text>
<line x1="327.6" y1="303.5" x2="329.1" y2="303.5" stroke="#333" stroke-width="0.6" />
<line x1="327.6" y1="290.0" x2="330.1" y2="290.0" stroke="#333" stroke-width="0.7" />
<text x="324.6" y="290.0" font-size="6.3" text-anchor="end" fill="#333" font-family="'Liberation Serif','Noto Serif CJK SC',serif" font-weight="normal" dominant-baseline="central" stroke="#333" stroke-width="0.18" >0.6</text>
<line x1="327.6" y1="276.4" x2="329.1" y2="276.4" stroke="#333" stroke-width="0.6" />
<line x1="327.6" y1="262.9" x2="330.1" y2="262.9" stroke="#333" stroke-width="0.7" />
<text x="324.6" y="262.9" font-size="6.3" text-anchor="end" fill="#333" font-family="'Liberation Serif','Noto Serif CJK SC',serif" font-weight="normal" dominant-baseline="central" stroke="#333" stroke-width="0.18" >0.8</text>
<line x1="327.6" y1="249.3" x2="329.1" y2="249.3" stroke="#333" stroke-width="0.6" />
<line x1="327.6" y1="235.8" x2="330.1" y2="235.8" stroke="#333" stroke-width="0.7" />
<text x="324.6" y="235.8" font-size="6.3" text-anchor="end" fill="#333" font-family="'Liberation Serif','Noto Serif CJK SC',serif" font-weight="normal" dominant-baseline="central" stroke="#333" stroke-width="0.18" >1.0</text>
<line x1="327.6" y1="371.2" x2="327.6" y2="368.7" stroke="#333" stroke-width="0.7" />
<text x="327.6" y="377.6" font-size="6.0" text-anchor="middle" fill="#333" font-family="'Liberation Serif','Noto Serif CJK SC',serif" font-weight="normal" dominant-baseline="central" stroke="#333" stroke-width="0.18" >0.0</text>
<line x1="344.5" y1="371.2" x2="344.5" y2="369.7" stroke="#333" stroke-width="0.6" />
<line x1="361.3" y1="371.2" x2="361.3" y2="368.7" stroke="#333" stroke-width="0.7" />
<text x="361.3" y="377.6" font-size="6.0" text-anchor="middle" fill="#333" font-family="'Liberation Serif','Noto Serif CJK SC',serif" font-weight="normal" dominant-baseline="central" stroke="#333" stroke-width="0.18" >2.0x10<tspan dy="-2" font-size="3.8">4</tspan></text>
<line x1="378.2" y1="371.2" x2="378.2" y2="369.7" stroke="#333" stroke-width="0.6" />
<line x1="395.0" y1="371.2" x2="395.0" y2="368.7" stroke="#333" stroke-width="0.7" />
<text x="395.0" y="377.6" font-size="6.0" text-anchor="middle" fill="#333" font-family="'Liberation Serif','Noto Serif CJK SC',serif" font-weight="normal" dominant-baseline="central" stroke="#333" stroke-width="0.18" >4.0x10<tspan dy="-2" font-size="3.8">4</tspan></text>
<line x1="411.9" y1="371.2" x2="411.9" y2="369.7" stroke="#333" stroke-width="0.6" />
<line x1="428.7" y1="371.2" x2="428.7" y2="368.7" stroke="#333" stroke-width="0.7" />
<text x="428.7" y="377.6" font-size="6.0" text-anchor="middle" fill="#333" font-family="'Liberation Serif','Noto Serif CJK SC',serif" font-weight="normal" dominant-baseline="central" stroke="#333" stroke-width="0.18" >6.0x10<tspan dy="-2" font-size="3.8">4</tspan></text>
<line x1="445.6" y1="371.2" x2="445.6" y2="369.7" stroke="#333" stroke-width="0.6" />
<line x1="462.4" y1="371.2" x2="462.4" y2="368.7" stroke="#333" stroke-width="0.7" />
<text x="462.4" y="377.6" font-size="6.0" text-anchor="middle" fill="#333" font-family="'Liberation Serif','Noto Serif CJK SC',serif" font-weight="normal" dominant-baseline="central" stroke="#333" stroke-width="0.18" >8.0x10<tspan dy="-2" font-size="3.8">4</tspan></text>
<line x1="479.3" y1="371.2" x2="479.3" y2="369.7" stroke="#333" stroke-width="0.6" />
<line x1="496.1" y1="371.2" x2="496.1" y2="368.7" stroke="#333" stroke-width="0.7" />
<text x="496.1" y="377.6" font-size="6.0" text-anchor="middle" fill="#333" font-family="'Liberation Serif','Noto Serif CJK SC',serif" font-weight="normal" dominant-baseline="central" stroke="#333" stroke-width="0.18" >1.0x10<tspan dy="-2" font-size="3.8">5</tspan></text>
<line x1="510.5" y1="371.2" x2="513.0" y2="371.2" stroke="#3030ff" stroke-width="0.8" />
<text x="516.5" y="371.2" font-size="6.0" text-anchor="start" fill="#3333ff" font-family="'Liberation Serif','Noto Serif CJK SC',serif" font-weight="normal" dominant-baseline="central" stroke="#3333ff" stroke-width="0.18" >0</text>
<line x1="511.5" y1="360.6" x2="513.0" y2="360.6" stroke="#3030ff" stroke-width="0.6" />
<line x1="510.5" y1="350.0" x2="513.0" y2="350.0" stroke="#3030ff" stroke-width="0.8" />
<text x="516.5" y="350.0" font-size="6.0" text-anchor="start" fill="#3333ff" font-family="'Liberation Serif','Noto Serif CJK SC',serif" font-weight="normal" dominant-baseline="central" stroke="#3333ff" stroke-width="0.18" >1x10<tspan dy="-2" font-size="3.8">4</tspan></text>
<line x1="511.5" y1="339.4" x2="513.0" y2="339.4" stroke="#3030ff" stroke-width="0.6" />
<line x1="510.5" y1="328.7" x2="513.0" y2="328.7" stroke="#3030ff" stroke-width="0.8" />
<text x="516.5" y="328.7" font-size="6.0" text-anchor="start" fill="#3333ff" font-family="'Liberation Serif','Noto Serif CJK SC',serif" font-weight="normal" dominant-baseline="central" stroke="#3333ff" stroke-width="0.18" >2x10<tspan dy="-2" font-size="3.8">4</tspan></text>
<line x1="511.5" y1="318.1" x2="513.0" y2="318.1" stroke="#3030ff" stroke-width="0.6" />
<line x1="510.5" y1="307.5" x2="513.0" y2="307.5" stroke="#3030ff" stroke-width="0.8" />
<text x="516.5" y="307.5" font-size="6.0" text-anchor="start" fill="#3333ff" font-family="'Liberation Serif','Noto Serif CJK SC',serif" font-weight="normal" dominant-baseline="central" stroke="#3333ff" stroke-width="0.18" >3x10<tspan dy="-2" font-size="3.8">4</tspan></text>
<line x1="511.5" y1="296.9" x2="513.0" y2="296.9" stroke="#3030ff" stroke-width="0.6" />
<line x1="510.5" y1="286.3" x2="513.0" y2="286.3" stroke="#3030ff" stroke-width="0.8" />
<text x="516.5" y="286.3" font-size="6.0" text-anchor="start" fill="#3333ff" font-family="'Liberation Serif','Noto Serif CJK SC',serif" font-weight="normal" dominant-baseline="central" stroke="#3333ff" stroke-width="0.18" >4x10<tspan dy="-2" font-size="3.8">4</tspan></text>
<line x1="511.5" y1="275.7" x2="513.0" y2="275.7" stroke="#3030ff" stroke-width="0.6" />
<line x1="510.5" y1="265.0" x2="513.0" y2="265.0" stroke="#3030ff" stroke-width="0.8" />
<text x="516.5" y="265.0" font-size="6.0" text-anchor="start" fill="#3333ff" font-family="'Liberation Serif','Noto Serif CJK SC',serif" font-weight="normal" dominant-baseline="central" stroke="#3333ff" stroke-width="0.18" >5x10<tspan dy="-2" font-size="3.8">4</tspan></text>
<line x1="511.5" y1="254.4" x2="513.0" y2="254.4" stroke="#3030ff" stroke-width="0.6" />
<line x1="510.5" y1="243.8" x2="513.0" y2="243.8" stroke="#3030ff" stroke-width="0.8" />
<text x="516.5" y="243.8" font-size="6.0" text-anchor="start" fill="#3333ff" font-family="'Liberation Serif','Noto Serif CJK SC',serif" font-weight="normal" dominant-baseline="central" stroke="#3333ff" stroke-width="0.18" >6x10<tspan dy="-2" font-size="3.8">4</tspan></text>
<line x1="511.5" y1="233.2" x2="513.0" y2="233.2" stroke="#3030ff" stroke-width="0.6" />
<line x1="510.5" y1="222.6" x2="513.0" y2="222.6" stroke="#3030ff" stroke-width="0.8" />
<text x="516.5" y="222.6" font-size="6.0" text-anchor="start" fill="#3333ff" font-family="'Liberation Serif','Noto Serif CJK SC',serif" font-weight="normal" dominant-baseline="central" stroke="#3333ff" stroke-width="0.18" >7x10<tspan dy="-2" font-size="3.8">4</tspan></text>
<text x="305.4" y="300.0" font-size="6.9" text-anchor="middle" fill="#444" font-family="'Liberation Mono',monospace" font-weight="normal" dominant-baseline="central" transform="rotate(-90 305.4 300)" stroke="#444" stroke-width="0.18" >Percentage/%</text>
<text x="541.0" y="299.2" font-size="7.85" text-anchor="middle" fill="#333" font-family="'Liberation Serif','Noto Serif CJK SC',serif" font-weight="normal" dominant-baseline="central" transform="rotate(-90 541 299.2)" stroke="#333" stroke-width="0.18" >Crack number/Piece</text>
<text x="413.5" y="385.6" font-size="6.6" text-anchor="middle" fill="#333" font-family="'Liberation Mono',monospace" font-weight="normal" dominant-baseline="central" stroke="#333" stroke-width="0.18" >Time/Step</text>
<text x="426.0" y="419.0" font-size="11.5" text-anchor="middle" fill="#000" font-family="'Liberation Serif','Noto Serif CJK SC',serif" font-weight="normal" dominant-baseline="central" stroke="#000" stroke-width="0.05" >(<tspan font-weight="bold">d</tspan>)</text>
<polyline points="335.0,371.2 338.0,368.0 341.0,350.0 344.5,325.0 347.0,305.0 351.0,275.0 356.0,258.0 361.0,248.0 382.0,244.6 409.0,244.0 415.0,242.6 449.0,241.0 470.0,240.0 494.0,238.0 496.5,235.5" stroke="#2030ff" stroke-width="1.1" fill="none" stroke-linejoin="round" />
<polyline points="336.5,371.2 339.0,367.0 343.0,345.0 347.0,330.0 351.0,311.0 356.0,300.0 361.0,293.0 380.0,291.5 420.0,290.5 460.0,289.5 494.0,288.5 496.5,286.5" stroke="#f030f0" stroke-width="1.25" fill="none" stroke-linejoin="round" />
<polyline points="337.0,371.2 339.0,366.0 342.0,355.0 345.0,346.0 349.0,340.0 351.0,337.0 356.0,331.0 361.0,326.5 400.0,325.0 440.0,324.5 480.0,323.5 494.0,323.0 496.5,321.5" stroke="#30e0e0" stroke-width="1.1" fill="none" stroke-linejoin="round" />
<text x="456.3" y="232.3" font-size="7.8" text-anchor="start" fill="#111" font-family="'Liberation Serif','Noto Serif CJK SC',serif" font-weight="normal" dominant-baseline="central" stroke="#111" stroke-width="0.18" >Total crack number</text>
<text x="427.8" y="297.2" font-size="7.75" text-anchor="start" fill="#111" font-family="'Liberation Serif','Noto Serif CJK SC',serif" font-weight="normal" dominant-baseline="central" stroke="#111" stroke-width="0.18" >Number of tensile cracks</text>
<text x="436.0" y="333.4" font-size="7.7" text-anchor="start" fill="#111" font-family="'Liberation Serif','Noto Serif CJK SC',serif" font-weight="normal" dominant-baseline="central" stroke="#111" stroke-width="0.18" >Number of shear cracks</text>
<rect x="365.2" y="253.6" width="105.6" height="20.2" fill="#fff" stroke="#b0b0b0" stroke-width="0.7" />
<rect x="366.6" y="256.0" width="12.8" height="6.8" fill="#ff0000" stroke="none" stroke-width="1" />
<rect x="366.6" y="266.0" width="12.8" height="6.8" fill="#90f090" stroke="none" stroke-width="1" />
<text x="383.6" y="259.0" font-size="7.8" text-anchor="start" fill="#000" font-family="'Liberation Serif','Noto Serif CJK SC',serif" font-weight="normal" dominant-baseline="central" stroke="#000" stroke-width="0.18" >Proportion of shear cracks</text>
<text x="383.6" y="268.8" font-size="7.8" text-anchor="start" fill="#000" font-family="'Liberation Serif','Noto Serif CJK SC',serif" font-weight="normal" dominant-baseline="central" stroke="#000" stroke-width="0.18" >Proportion of tensile cracks</text>
<defs>
<filter id="noiseE" x="0" y="0" width="100%" height="100%" color-interpolation-filters="sRGB">
  <feTurbulence type="fractalNoise" baseFrequency="0.16" numOctaves="3" seed="7" result="n"/>
  <feColorMatrix in="n" type="matrix" values="0 0 0 0 0.05  0 0 0 0 0.27  0 0 0 0 0.62  2.6 0 0 0 -1.05"/>
  <feGaussianBlur stdDeviation="0.6"/>
</filter>
<filter id="soft" x="-5%" y="-5%" width="110%" height="110%"><feGaussianBlur stdDeviation="1.0"/></filter>
<filter id="soft2" x="-5%" y="-5%" width="110%" height="110%"><feGaussianBlur stdDeviation="1.2"/></filter>
<filter id="soft3" x="-10%" y="-10%" width="120%" height="120%"><feGaussianBlur stdDeviation="1.8"/></filter>
<filter id="soft4" x="-10%" y="-10%" width="120%" height="120%"><feGaussianBlur stdDeviation="4"/></filter>
<clipPath id="clipE"><polygon points="121.5,430 128,428 135,427.2 148,428 161,430 175,432.5 186,435 201.6,440 219.4,445.4 234.7,465.8 236.5,475 237,535 238,600 238,620.5 64,620.5 64,615 66,606 71,590 80,574 89,564 97,550 104,530 110,512 115,495 118,465 120,445"/></clipPath>
<clipPath id="clipF"><polygon points="426,452 440,454 456,457 460,460 475,470 490,480 500,488 501.5,495 502,550 502,590 495,592.7 480,597 460,601.4 440,606 426,610 410,611 390,609 374,606 378,590 385,570 395,550 407,530 413,505 417,485 420,465"/></clipPath>
<linearGradient id="gF" x1="0" y1="0" x2="1" y2="0.25">
  <stop offset="0" stop-color="#8fb4e6"/>
  <stop offset="0.25" stop-color="#5d92d8"/>
  <stop offset="0.55" stop-color="#2f76cc"/>
  <stop offset="0.85" stop-color="#3478cc"/>
  <stop offset="1" stop-color="#6a9ad8"/>
</linearGradient>
</defs>
<g filter="url(#soft)">
<polygon points="121.5,430.0 128.0,428.0 135.0,427.2 148.0,428.0 161.0,430.0 175.0,432.5 186.0,435.0 201.6,440.0 219.4,445.4 234.7,465.8 236.5,475.0 237.0,535.0 238.0,600.0 238.0,620.5 64.0,620.5 64.0,615.0 66.0,606.0 71.0,590.0 80.0,574.0 89.0,564.0 97.0,550.0 104.0,530.0 110.0,512.0 115.0,495.0 118.0,465.0 120.0,445.0" fill="#1b6dd2" stroke="none" stroke-width="1" />
<g clip-path="url(#clipE)"><rect x="60" y="425" width="182" height="200" filter="url(#noiseE)" opacity="0.45"/></g>
</g>
<rect x="157.5" y="429.0" width="3.6" height="4.0" fill="#e01010" stroke="none" stroke-width="1" />
<rect x="184.0" y="483.0" width="2.0" height="2.0" fill="#7a3070" stroke="none" stroke-width="1" opacity="0.8"/>
<rect x="119.0" y="523.0" width="2.0" height="2.0" fill="#7a3070" stroke="none" stroke-width="1" opacity="0.8"/>
<rect x="165.0" y="546.5" width="2.0" height="2.0" fill="#7a3070" stroke="none" stroke-width="1" opacity="0.8"/>
<rect x="89.0" y="613.0" width="2.2" height="2.5" fill="#a02040" stroke="none" stroke-width="1" />
<rect x="86.0" y="618.7" width="4.0" height="2.6" fill="#20c8d8" stroke="none" stroke-width="1" />
<rect x="124.0" y="618.7" width="11.0" height="2.6" fill="#20c8d8" stroke="none" stroke-width="1" />
<rect x="140.0" y="617.2" width="4.0" height="2.6" fill="#20c8d8" stroke="none" stroke-width="1" />
<rect x="236.0" y="616.5" width="3.6" height="5.5" fill="#20b8c8" stroke="none" stroke-width="1" />
<line x1="243.0" y1="622.0" x2="243.0" y2="580.0" stroke="#ff3030" stroke-width="0.8" />
<polygon points="243.0,574.4 240.0,580.5 246.0,580.5" fill="#ff1010" stroke="none" stroke-width="1" />
<line x1="243.0" y1="622.0" x2="215.0" y2="622.0" stroke="#ff3030" stroke-width="0.8" />
<polygon points="209.0,622.0 215.5,619.0 215.5,625.0" fill="#ff1010" stroke="none" stroke-width="1" />
<text x="252.0" y="590.0" font-size="8.5" text-anchor="middle" fill="#222" font-family="'Liberation Serif','Noto Serif CJK SC',serif" font-weight="normal" dominant-baseline="central" stroke="#222" stroke-width="0.18" >z</text>
<text x="230.0" y="628.0" font-size="8.5" text-anchor="middle" fill="#222" font-family="'Liberation Serif','Noto Serif CJK SC',serif" font-weight="normal" dominant-baseline="central" stroke="#222" stroke-width="0.18" >y</text>
<text x="5.0" y="441.0" font-size="9.9" text-anchor="start" fill="#111" font-family="'Liberation Serif','Noto Serif CJK SC',serif" font-weight="normal" dominant-baseline="central" stroke="#111" stroke-width="0.18" >Legend:</text>
<rect x="48.5" y="436.5" width="5.0" height="9.5" fill="#30d0e0" stroke="#1a7a8a" stroke-width="0.5" />
<rect x="48.5" y="448.5" width="5.0" height="9.5" fill="#e01818" stroke="#802020" stroke-width="0.5" />
<text x="56.5" y="441.2" font-size="9.5" text-anchor="start" fill="#111" font-family="'Liberation Serif','Noto Serif CJK SC',serif" font-weight="normal" dominant-baseline="central" stroke="#111" stroke-width="0.18" >Tensile&#160; failure</text>
<text x="58.5" y="453.2" font-size="9.5" text-anchor="start" fill="#111" font-family="'Liberation Serif','Noto Serif CJK SC',serif" font-weight="normal" dominant-baseline="central" stroke="#111" stroke-width="0.18" >Shear&#160; failure</text>
<text x="131.0" y="667.2" font-size="11.5" text-anchor="middle" fill="#000" font-family="'Liberation Serif','Noto Serif CJK SC',serif" font-weight="normal" dominant-baseline="central" stroke="#000" stroke-width="0.05" >(<tspan font-weight="bold">e</tspan>)</text>
<g filter="url(#soft3)">
<polygon points="426.0,452.0 440.0,454.0 456.0,457.0 460.0,460.0 475.0,470.0 490.0,480.0 500.0,488.0 501.5,495.0 502.0,550.0 502.0,590.0 495.0,592.7 480.0,597.0 460.0,601.4 440.0,606.0 426.0,610.0 410.0,611.0 390.0,609.0 374.0,606.0 378.0,590.0 385.0,570.0 395.0,550.0 407.0,530.0 413.0,505.0 417.0,485.0 420.0,465.0" fill="#78a8e0" stroke="none" stroke-width="1" />
</g>
<g filter="url(#soft4)">
<polygon points="432.0,458.0 456.0,460.0 488.0,482.0 497.0,492.0 497.0,586.0 470.0,597.0 440.0,605.0 425.0,607.0 410.0,604.0 400.0,600.0 399.0,585.0 405.0,565.0 414.0,545.0 422.0,520.0 428.0,490.0 431.0,470.0" fill="#3580d0" stroke="none" stroke-width="1" />
<polygon points="440.0,470.0 470.0,470.0 492.0,495.0 493.0,580.0 460.0,595.0 440.0,598.0 432.0,560.0 436.0,520.0" fill="#2a70c8" stroke="none" stroke-width="1" opacity="0.5"/>
</g>
<g clip-path="url(#clipF)"><rect x="370" y="450" width="135" height="165" filter="url(#noiseE)" opacity="0.32"/></g>
<polyline points="457.0,458.0 446.7,498.8 441.8,523.0 435.7,547.6 430.9,572.0 427.2,596.3 425.5,608.0" stroke="#38b4dc" stroke-width="4.6" fill="none" stroke-linejoin="round" opacity="0.65" stroke-linecap="butt"/>
<polyline points="457.0,458.0 446.7,498.8 441.8,523.0 435.7,547.6 430.9,572.0 427.2,596.3 425.5,608.0" stroke="#28d8e0" stroke-width="3.2199999999999998" fill="none" stroke-linejoin="round" stroke-dasharray="1.3 0.7" opacity="0.95" stroke-linecap="butt"/>
<polyline points="454.6,457.4 444.3,498.2 439.4,522.5 433.3,547.1 428.4,571.6 424.7,595.9 423.0,607.6" stroke="#e02828" stroke-width="0.8" fill="none" stroke-linejoin="round" stroke-dasharray="1.6 1.3"/>
<polyline points="459.4,458.6 449.1,499.4 444.2,523.5 438.1,548.1 433.4,572.4 429.7,596.7 428.0,608.4" stroke="#e02828" stroke-width="0.8" fill="none" stroke-linejoin="round" stroke-dasharray="1.6 1.3"/>
<polyline points="475.5,467.0 469.9,498.8 465.0,523.0 460.1,547.6 455.2,572.0 451.6,596.3 450.5,606.0" stroke="#38b4dc" stroke-width="4.2" fill="none" stroke-linejoin="round" opacity="0.65" stroke-linecap="butt"/>
<polyline points="475.5,467.0 469.9,498.8 465.0,523.0 460.1,547.6 455.2,572.0 451.6,596.3 450.5,606.0" stroke="#28d8e0" stroke-width="2.94" fill="none" stroke-linejoin="round" stroke-dasharray="1.3 0.7" opacity="0.95" stroke-linecap="butt"/>
<polyline points="473.2,466.6 467.6,498.4 462.7,522.5 457.8,547.1 452.9,571.6 449.3,596.0 448.2,605.7" stroke="#e02828" stroke-width="0.8" fill="none" stroke-linejoin="round" stroke-dasharray="1.6 1.3"/>
<polyline points="477.8,467.4 472.2,499.2 467.3,523.5 462.4,548.1 457.5,572.4 453.9,596.6 452.8,606.3" stroke="#e02828" stroke-width="0.8" fill="none" stroke-linejoin="round" stroke-dasharray="1.6 1.3"/>
<polygon points="388.0,566.5 396.0,565.5 412.0,572.0 428.0,580.0 440.0,585.0 441.0,589.0 432.0,591.0 422.0,589.5 405.0,578.0 392.0,570.0" fill="#33c4d8" stroke="none" stroke-width="1" opacity="0.88"/>
<polyline points="399.0,568.0 412.0,573.8 424.0,580.0" stroke="#2070c0" stroke-width="1.2" fill="none" stroke-linejoin="round" opacity="0.5"/>
<polyline points="387.6,567.0 406.0,578.5 422.0,589.5" stroke="#e02828" stroke-width="0.85" fill="none" stroke-linejoin="round" stroke-dasharray="1.6 1.2"/>
<polyline points="389.0,565.3 397.0,565.3" stroke="#e02828" stroke-width="0.6" fill="none" stroke-linejoin="round" stroke-dasharray="1.4 1" opacity="0.7"/>
<rect x="433.4" y="584.0" width="6.4" height="4.7" fill="#40d0d8" stroke="none" stroke-width="1" opacity="0.8"/>
<line x1="425.0" y1="474.4" x2="451.6" y2="479.3" stroke="#38c8d8" stroke-width="1.8" opacity="0.8" stroke-dasharray="1.5 0.6"/>
<line x1="432.0" y1="489.0" x2="451.0" y2="493.0" stroke="#38c8d8" stroke-width="1.8" opacity="0.8" stroke-dasharray="1.5 0.6"/>
<line x1="424.0" y1="502.0" x2="449.0" y2="505.0" stroke="#38c8d8" stroke-width="1.5" opacity="0.8" stroke-dasharray="1.5 0.6"/>
<line x1="422.3" y1="523.0" x2="441.8" y2="526.8" stroke="#38c8d8" stroke-width="1.2" opacity="0.8" stroke-dasharray="1.5 0.6"/>
<rect x="410.3" y="497.8" width="7.0" height="4.4" fill="none" stroke="#e02020" stroke-width="0.7" stroke-dasharray="1.5 1"/>
<line x1="417.3" y1="501.5" x2="452.0" y2="503.8" stroke="#e02020" stroke-width="0.6" stroke-dasharray="1.5 1"/>
<rect x="471.4" y="475.1" width="2.6" height="2.6" fill="#e81212" stroke="none" stroke-width="1" />
<rect x="471.8" y="472.2" width="2.6" height="2.6" fill="#e81212" stroke="none" stroke-width="1" />
<rect x="467.7" y="513.6" width="2.6" height="2.6" fill="#e81212" stroke="none" stroke-width="1" />
<rect x="473.7" y="474.3" width="2.6" height="2.6" fill="#e81212" stroke="none" stroke-width="1" />
<rect x="471.9" y="472.4" width="2.6" height="2.6" fill="#e81212" stroke="none" stroke-width="1" />
<rect x="467.7" y="514.3" width="2.6" height="2.6" fill="#e81212" stroke="none" stroke-width="1" />
<rect x="466.1" y="504.9" width="2.6" height="2.6" fill="#e81212" stroke="none" stroke-width="1" />
<rect x="470.9" y="495.4" width="2.6" height="2.6" fill="#e81212" stroke="none" stroke-width="1" />
<rect x="464.6" y="510.7" width="2.6" height="2.6" fill="#e81212" stroke="none" stroke-width="1" />
<rect x="469.2" y="496.7" width="2.6" height="2.6" fill="#e81212" stroke="none" stroke-width="1" />
<rect x="469.3" y="487.1" width="2.6" height="2.6" fill="#e81212" stroke="none" stroke-width="1" />
<rect x="467.1" y="509.1" width="2.6" height="2.6" fill="#e81212" stroke="none" stroke-width="1" />
<rect x="466.7" y="513.2" width="2.6" height="2.6" fill="#e81212" stroke="none" stroke-width="1" />
<rect x="467.1" y="508.2" width="2.6" height="2.6" fill="#e81212" stroke="none" stroke-width="1" />
<rect x="469.7" y="492.4" width="2.6" height="2.6" fill="#e81212" stroke="none" stroke-width="1" />
<rect x="474.4" y="477.3" width="2.6" height="2.6" fill="#e81212" stroke="none" stroke-width="1" />
<rect x="475.2" y="468.9" width="2.6" height="2.6" fill="#e81212" stroke="none" stroke-width="1" />
<rect x="470.6" y="489.2" width="2.6" height="2.6" fill="#e81212" stroke="none" stroke-width="1" />
<rect x="463.6" y="518.3" width="2.6" height="2.6" fill="#e81212" stroke="none" stroke-width="1" />
<rect x="474.3" y="473.6" width="2.6" height="2.6" fill="#e81212" stroke="none" stroke-width="1" />
<rect x="473.7" y="480.1" width="2.6" height="2.6" fill="#e81212" stroke="none" stroke-width="1" />
<rect x="472.5" y="490.0" width="2.6" height="2.6" fill="#e81212" stroke="none" stroke-width="1" />
<rect x="473.2" y="470.2" width="2.6" height="2.6" fill="#e81212" stroke="none" stroke-width="1" />
<rect x="468.5" y="493.7" width="2.6" height="2.6" fill="#e81212" stroke="none" stroke-width="1" />
<rect x="473.6" y="472.2" width="2.6" height="2.6" fill="#e81212" stroke="none" stroke-width="1" />
<rect x="470.9" y="499.8" width="2.6" height="2.6" fill="#e81212" stroke="none" stroke-width="1" />
<rect x="470.8" y="500.2" width="2.6" height="2.6" fill="#e81212" stroke="none" stroke-width="1" />
<rect x="475.3" y="478.0" width="2.6" height="2.6" fill="#e81212" stroke="none" stroke-width="1" />
<rect x="474.2" y="483.3" width="2.6" height="2.6" fill="#e81212" stroke="none" stroke-width="1" />
<rect x="466.4" y="505.8" width="2.6" height="2.6" fill="#e81212" stroke="none" stroke-width="1" />
<rect x="456.8" y="554.2" width="2.6" height="2.6" fill="#e81212" stroke="none" stroke-width="1" />
<rect x="461.7" y="549.2" width="2.6" height="2.6" fill="#e81212" stroke="none" stroke-width="1" />
<rect x="457.6" y="545.2" width="2.6" height="2.6" fill="#e81212" stroke="none" stroke-width="1" />
<rect x="461.9" y="522.3" width="2.6" height="2.6" fill="#e81212" stroke="none" stroke-width="1" />
<rect x="453.8" y="581.4" width="2.6" height="2.6" fill="#e81212" stroke="none" stroke-width="1" />
<rect x="458.5" y="541.9" width="2.6" height="2.6" fill="#e81212" stroke="none" stroke-width="1" />
<rect x="451.6" y="597.2" width="2.6" height="2.6" fill="#e81212" stroke="none" stroke-width="1" />
<rect x="459.3" y="535.3" width="2.6" height="2.6" fill="#e81212" stroke="none" stroke-width="1" />
<rect x="461.8" y="523.1" width="2.6" height="2.6" fill="#e81212" stroke="none" stroke-width="1" />
<rect x="454.0" y="572.8" width="2.6" height="2.6" fill="#e81212" stroke="none" stroke-width="1" />
<rect x="463.5" y="522.0" width="2.6" height="2.6" fill="#e81212" stroke="none" stroke-width="1" />
<rect x="463.5" y="538.6" width="2.6" height="2.6" fill="#e81212" stroke="none" stroke-width="1" />
<rect x="462.7" y="528.5" width="2.6" height="2.6" fill="#e81212" stroke="none" stroke-width="1" />
<rect x="454.1" y="580.6" width="2.6" height="2.6" fill="#e81212" stroke="none" stroke-width="1" />
<rect x="425.9" y="607.1" width="2.6" height="2.6" fill="#e81212" stroke="none" stroke-width="1" />
<rect x="444.8" y="510.1" width="2.6" height="2.6" fill="#e81212" stroke="none" stroke-width="1" />
<rect x="450.2" y="483.5" width="2.6" height="2.6" fill="#e81212" stroke="none" stroke-width="1" />
<rect x="447.1" y="511.0" width="2.6" height="2.6" fill="#e81212" stroke="none" stroke-width="1" />
<rect x="430.1" y="586.7" width="2.6" height="2.6" fill="#e81212" stroke="none" stroke-width="1" />
<rect x="449.5" y="482.8" width="2.6" height="2.6" fill="#e81212" stroke="none" stroke-width="1" />
<rect x="443.8" y="510.2" width="2.6" height="2.6" fill="#e81212" stroke="none" stroke-width="1" />
<rect x="447.4" y="508.8" width="2.6" height="2.6" fill="#e81212" stroke="none" stroke-width="1" />
<rect x="445.6" y="497.1" width="2.6" height="2.6" fill="#e81212" stroke="none" stroke-width="1" />
<rect x="427.9" y="599.3" width="2.6" height="2.6" fill="#e81212" stroke="none" stroke-width="1" />
<rect x="425.5" y="607.5" width="2.6" height="2.6" fill="#e81212" stroke="none" stroke-width="1" />
<rect x="429.0" y="595.8" width="2.6" height="2.6" fill="#e81212" stroke="none" stroke-width="1" />
<rect x="432.3" y="581.5" width="2.6" height="2.6" fill="#e81212" stroke="none" stroke-width="1" />
<rect x="436.7" y="543.0" width="2.6" height="2.6" fill="#e81212" stroke="none" stroke-width="1" />
<rect x="447.9" y="506.1" width="2.6" height="2.6" fill="#e81212" stroke="none" stroke-width="1" />
<rect x="430.4" y="595.7" width="2.6" height="2.6" fill="#e81212" stroke="none" stroke-width="1" />
<rect x="470.7" y="467.7" width="2.6" height="2.6" fill="#e81212" stroke="none" stroke-width="1" />
<rect x="472.7" y="467.2" width="2.6" height="2.6" fill="#e81212" stroke="none" stroke-width="1" />
<rect x="474.7" y="467.7" width="2.6" height="2.6" fill="#e81212" stroke="none" stroke-width="1" />
<rect x="476.7" y="468.7" width="2.6" height="2.6" fill="#e81212" stroke="none" stroke-width="1" />
<rect x="471.7" y="470.7" width="2.6" height="2.6" fill="#e81212" stroke="none" stroke-width="1" />
<rect x="473.7" y="471.7" width="2.6" height="2.6" fill="#e81212" stroke="none" stroke-width="1" />
<rect x="475.7" y="472.7" width="2.6" height="2.6" fill="#e81212" stroke="none" stroke-width="1" />
<rect x="477.7" y="474.7" width="2.6" height="2.6" fill="#e81212" stroke="none" stroke-width="1" />
<rect x="472.7" y="474.7" width="2.6" height="2.6" fill="#e81212" stroke="none" stroke-width="1" />
<rect x="474.7" y="476.7" width="2.6" height="2.6" fill="#e81212" stroke="none" stroke-width="1" />
<rect x="471.2" y="473.7" width="2.6" height="2.6" fill="#e81212" stroke="none" stroke-width="1" />
<rect x="414.2" y="483.2" width="2.6" height="2.6" fill="#e81212" stroke="none" stroke-width="1" />
<rect x="416.7" y="484.2" width="2.6" height="2.6" fill="#e81212" stroke="none" stroke-width="1" />
<rect x="419.2" y="484.7" width="2.6" height="2.6" fill="#e81212" stroke="none" stroke-width="1" />
<rect x="421.7" y="485.2" width="2.6" height="2.6" fill="#e81212" stroke="none" stroke-width="1" />
<rect x="424.2" y="486.0" width="2.6" height="2.6" fill="#e81212" stroke="none" stroke-width="1" />
<rect x="427.2" y="486.7" width="2.6" height="2.6" fill="#e81212" stroke="none" stroke-width="1" />
<rect x="429.7" y="487.2" width="2.6" height="2.6" fill="#e81212" stroke="none" stroke-width="1" />
<rect x="444.7" y="491.2" width="2.6" height="2.6" fill="#e81212" stroke="none" stroke-width="1" />
<rect x="447.7" y="491.7" width="2.6" height="2.6" fill="#e81212" stroke="none" stroke-width="1" />
<rect x="426.7" y="473.7" width="2.6" height="2.6" fill="#e81212" stroke="none" stroke-width="1" />
<rect x="431.7" y="472.7" width="2.6" height="2.6" fill="#e81212" stroke="none" stroke-width="1" />
<rect x="436.7" y="474.7" width="2.6" height="2.6" fill="#e81212" stroke="none" stroke-width="1" />
<rect x="443.7" y="501.2" width="2.6" height="2.6" fill="#e81212" stroke="none" stroke-width="1" />
<rect x="445.7" y="502.7" width="2.6" height="2.6" fill="#e81212" stroke="none" stroke-width="1" />
<rect x="448.2" y="503.7" width="2.6" height="2.6" fill="#e81212" stroke="none" stroke-width="1" />
<rect x="445.2" y="504.7" width="2.6" height="2.6" fill="#e81212" stroke="none" stroke-width="1" />
<rect x="429.7" y="503.7" width="2.6" height="2.6" fill="#e81212" stroke="none" stroke-width="1" />
<rect x="422.7" y="518.7" width="2.6" height="2.6" fill="#e81212" stroke="none" stroke-width="1" />
<rect x="458.7" y="466.7" width="2.6" height="2.6" fill="#e81212" stroke="none" stroke-width="1" />
<rect x="501.4" y="499.7" width="2.6" height="2.6" fill="#e81212" stroke="none" stroke-width="1" />
<rect x="408.7" y="521.7" width="2.6" height="2.6" fill="#e81212" stroke="none" stroke-width="1" />
<rect x="437.7" y="544.7" width="2.6" height="2.6" fill="#e81212" stroke="none" stroke-width="1" />
<rect x="440.2" y="545.2" width="2.6" height="2.6" fill="#e81212" stroke="none" stroke-width="1" />
<rect x="442.7" y="545.7" width="2.6" height="2.6" fill="#e81212" stroke="none" stroke-width="1" />
<rect x="445.2" y="546.2" width="2.6" height="2.6" fill="#e81212" stroke="none" stroke-width="1" />
<rect x="447.7" y="546.7" width="2.6" height="2.6" fill="#e81212" stroke="none" stroke-width="1" />
<rect x="450.2" y="547.7" width="2.6" height="2.6" fill="#e81212" stroke="none" stroke-width="1" />
<rect x="434.7" y="544.2" width="2.6" height="2.6" fill="#e81212" stroke="none" stroke-width="1" />
<rect x="463.7" y="526.7" width="2.6" height="2.6" fill="#e81212" stroke="none" stroke-width="1" />
<rect x="465.2" y="528.2" width="2.6" height="2.6" fill="#e81212" stroke="none" stroke-width="1" />
<rect x="453.7" y="526.4" width="2.6" height="2.6" fill="#e81212" stroke="none" stroke-width="1" />
<rect x="468.7" y="541.7" width="2.6" height="2.6" fill="#e81212" stroke="none" stroke-width="1" />
<rect x="425.7" y="456.7" width="2.6" height="2.6" fill="#e81212" stroke="none" stroke-width="1" />
<rect x="428.7" y="458.7" width="2.6" height="2.6" fill="#e81212" stroke="none" stroke-width="1" />
<rect x="444.7" y="461.7" width="2.6" height="2.6" fill="#e81212" stroke="none" stroke-width="1" />
<rect x="447.7" y="462.7" width="2.6" height="2.6" fill="#e81212" stroke="none" stroke-width="1" />
<rect x="431.7" y="466.7" width="2.6" height="2.6" fill="#e81212" stroke="none" stroke-width="1" />
<line x1="421.0" y1="441.0" x2="429.0" y2="469.0" stroke="#e81c1c" stroke-width="1.2" />
<polygon points="429.0,469.0 425.5,464.8 429.7,463.6" fill="#e01414" stroke="none" stroke-width="1" />
<line x1="430.0" y1="441.0" x2="434.0" y2="458.0" stroke="#e81c1c" stroke-width="1.2" />
<polygon points="434.0,458.0 430.7,453.6 435.0,452.6" fill="#e01414" stroke="none" stroke-width="1" />
<line x1="435.0" y1="441.0" x2="445.0" y2="462.0" stroke="#e81c1c" stroke-width="1.2" />
<polygon points="445.0,462.0 440.9,458.4 444.8,456.5" fill="#e01414" stroke="none" stroke-width="1" />
<line x1="415.0" y1="632.0" x2="407.7" y2="582.0" stroke="#e81c1c" stroke-width="1.2" />
<polygon points="407.7,582.0 410.6,586.6 406.2,587.3" fill="#e01414" stroke="none" stroke-width="1" />
<line x1="424.8" y1="632.0" x2="430.7" y2="504.0" stroke="#e81c1c" stroke-width="1.2" />
<polygon points="430.7,504.0 432.7,509.1 428.3,508.9" fill="#e01414" stroke="none" stroke-width="1" />
<line x1="432.0" y1="632.0" x2="451.5" y2="594.4" stroke="#e81c1c" stroke-width="1.2" />
<polygon points="451.5,594.4 451.2,599.9 447.2,597.8" fill="#e01414" stroke="none" stroke-width="1" />
<line x1="481.4" y1="610.0" x2="444.5" y2="547.0" stroke="#e81c1c" stroke-width="1.2" />
<polygon points="444.5,547.0 448.9,550.2 445.1,552.4" fill="#e01414" stroke="none" stroke-width="1" />
<line x1="481.5" y1="610.0" x2="457.4" y2="472.5" stroke="#e81c1c" stroke-width="1.2" />
<polygon points="457.4,472.5 460.4,477.0 456.1,477.8" fill="#e01414" stroke="none" stroke-width="1" />
<line x1="483.0" y1="611.0" x2="478.7" y2="475.0" stroke="#e81c1c" stroke-width="1.2" />
<polygon points="478.7,475.0 481.1,479.9 476.7,480.1" fill="#e01414" stroke="none" stroke-width="1" />
<line x1="483.6" y1="612.0" x2="483.6" y2="596.5" stroke="#e81c1c" stroke-width="1.2" />
<polygon points="483.6,596.5 485.8,601.5 481.4,601.5" fill="#e01414" stroke="none" stroke-width="1" />
<line x1="504.0" y1="590.0" x2="504.0" y2="561.0" stroke="#ff5050" stroke-width="0.8" />
<polygon points="504.0,555.0 501.0,561.5 507.0,561.5" fill="#ff1010" stroke="none" stroke-width="1" />
<line x1="504.0" y1="590.0" x2="520.0" y2="592.7" stroke="#ff5050" stroke-width="0.8" />
<polygon points="525.5,593.5 519.8,589.7 519.0,595.7" fill="#ff1010" stroke="none" stroke-width="1" />
<line x1="504.0" y1="590.0" x2="486.0" y2="596.0" stroke="#ff5050" stroke-width="0.8" />
<rect x="501.0" y="587.5" width="4.0" height="3.5" fill="#20b0c0" stroke="none" stroke-width="1" />
<text x="509.6" y="566.0" font-size="8" text-anchor="middle" fill="#222" font-family="'Liberation Serif','Noto Serif CJK SC',serif" font-weight="normal" dominant-baseline="central" stroke="#222" stroke-width="0.18" >z</text>
<text x="528.3" y="598.5" font-size="8" text-anchor="middle" fill="#222" font-family="'Liberation Serif','Noto Serif CJK SC',serif" font-weight="normal" dominant-baseline="central" stroke="#222" stroke-width="0.18" >x</text>
<text x="427.0" y="434.0" font-size="8.6" text-anchor="middle" fill="#111" font-family="'Liberation Serif','Noto Serif CJK SC',serif" font-weight="normal" dominant-baseline="central" stroke="#111" stroke-width="0.18" >Collapse</text>
<text x="466.0" y="622.3" font-size="8.5" text-anchor="start" fill="#111" font-family="'Liberation Serif','Noto Serif CJK SC',serif" font-weight="normal" dominant-baseline="central" stroke="#111" stroke-width="0.18" >Junction points</text>
<text x="466.0" y="632.6" font-size="8.5" text-anchor="start" fill="#111" font-family="'Liberation Serif','Noto Serif CJK SC',serif" font-weight="normal" dominant-baseline="central" stroke="#111" stroke-width="0.18" >of joints</text>
<text x="407.5" y="638.6" font-size="8.5" text-anchor="start" fill="#111" font-family="'Liberation Serif','Noto Serif CJK SC',serif" font-weight="normal" dominant-baseline="central" stroke="#111" stroke-width="0.18" >Dominant</text>
<text x="407.5" y="649.0" font-size="8.5" text-anchor="start" fill="#111" font-family="'Liberation Serif','Noto Serif CJK SC',serif" font-weight="normal" dominant-baseline="central" stroke="#111" stroke-width="0.18" >joint planes</text>
<text x="321.5" y="463.0" font-size="8.5" text-anchor="start" fill="#111" font-family="'Liberation Serif','Noto Serif CJK SC',serif" font-weight="normal" dominant-baseline="central" stroke="#111" stroke-width="0.18" >Legend:</text>
<rect x="357.0" y="458.5" width="4.5" height="8.5" fill="#30c030" stroke="#207020" stroke-width="0.5" />
<rect x="357.0" y="468.8" width="4.5" height="8.5" fill="#30d0e0" stroke="#1a7a8a" stroke-width="0.5" />
<rect x="357.0" y="479.3" width="4.5" height="8.5" fill="#e01818" stroke="#802020" stroke-width="0.5" />
<text x="366.5" y="463.0" font-size="8.5" text-anchor="start" fill="#111" font-family="'Liberation Serif','Noto Serif CJK SC',serif" font-weight="normal" dominant-baseline="central" stroke="#111" stroke-width="0.18" >Slippage</text>
<text x="366.5" y="473.5" font-size="8.5" text-anchor="start" fill="#111" font-family="'Liberation Serif','Noto Serif CJK SC',serif" font-weight="normal" dominant-baseline="central" stroke="#111" stroke-width="0.18" >Tensile&#160; failure</text>
<text x="366.5" y="484.0" font-size="8.5" text-anchor="start" fill="#111" font-family="'Liberation Serif','Noto Serif CJK SC',serif" font-weight="normal" dominant-baseline="central" stroke="#111" stroke-width="0.18" >Shear&#160; failure</text>
<text x="426.6" y="667.2" font-size="11.5" text-anchor="middle" fill="#000" font-family="'Liberation Serif','Noto Serif CJK SC',serif" font-weight="normal" dominant-baseline="central" stroke="#000" stroke-width="0.05" >(<tspan font-weight="bold">f</tspan>)</text>
</g>
</svg></body></html>
